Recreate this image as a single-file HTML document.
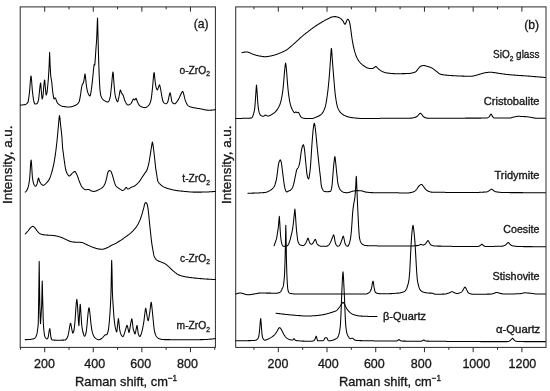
<!DOCTYPE html>
<html lang="en"><head><meta charset="utf-8"><title>Raman spectra of ZrO2 and SiO2 polymorphs</title>
<style>html,body{margin:0;padding:0;background:#fff;}svg{display:block;}text{font-family:"Liberation Sans",sans-serif;fill:#1a1a1a;}.c{fill:none;stroke:#000;stroke-width:1.05;stroke-linejoin:round;stroke-linecap:round;}.f{fill:none;stroke:#2a2a2a;stroke-width:1;}</style></head><body>
<svg width="550" height="391" viewBox="0 0 550 391">
<rect width="550" height="391" fill="#fff"/>
<rect class="f" x="20.2" y="6.9" width="195.2" height="340.5"/>
<rect class="f" x="235.7" y="6.9" width="310.3" height="340.5"/>
<path class="f" d="M20.41,347.4v2.4 M44.70,347.4v4.8 M44.70,6.9v4.8 M68.99,347.4v2.4 M68.99,6.9v2.4 M93.28,347.4v4.8 M93.28,6.9v4.8 M117.57,347.4v2.4 M117.57,6.9v2.4 M141.86,347.4v4.8 M141.86,6.9v4.8 M166.15,347.4v2.4 M166.15,6.9v2.4 M190.44,347.4v4.8 M190.44,6.9v4.8 M214.73,347.4v2.4 M253.94,347.4v2.4 M253.94,6.9v2.4 M278.30,347.4v4.8 M278.30,6.9v4.8 M302.66,347.4v2.4 M302.66,6.9v2.4 M327.02,347.4v4.8 M327.02,6.9v4.8 M351.38,347.4v2.4 M351.38,6.9v2.4 M375.74,347.4v4.8 M375.74,6.9v4.8 M400.10,347.4v2.4 M400.10,6.9v2.4 M424.46,347.4v4.8 M424.46,6.9v4.8 M448.82,347.4v2.4 M448.82,6.9v2.4 M473.18,347.4v4.8 M473.18,6.9v4.8 M497.54,347.4v2.4 M497.54,6.9v2.4 M521.90,347.4v4.8 M521.90,6.9v4.8"/>
<path class="c" d="M20.4,105.0 20.8,105.0 21.2,105.0 21.6,105.0 22.0,104.9 22.4,104.9 22.8,104.9 23.2,104.8 23.6,104.8 24.0,104.8 24.4,104.7 24.8,104.6 25.0,104.6 25.2,104.6 25.6,104.4 26.0,104.2 26.4,103.9 26.8,103.6 27.2,103.2 27.6,102.6 28.0,102.0 28.0,102.0 28.4,100.5 28.8,97.8 29.2,94.5 29.5,92.0 29.6,91.1 30.0,86.0 30.4,80.5 30.8,76.6 31.0,76.0 31.2,76.6 31.6,80.5 32.0,86.0 32.4,91.1 32.5,92.0 32.8,94.5 33.2,97.6 33.6,100.2 34.0,102.0 34.0,102.0 34.4,103.1 34.8,103.9 35.0,104.0 35.2,104.0 35.6,104.0 36.0,103.9 36.4,103.8 36.8,103.7 37.0,103.6 37.2,103.5 37.6,102.8 38.0,101.8 38.4,100.4 38.5,100.0 38.8,98.0 39.2,93.9 39.6,90.0 39.6,90.0 40.0,86.4 40.4,83.5 40.6,83.0 40.8,84.0 41.2,89.5 41.4,92.0 41.6,94.2 42.0,98.3 42.2,99.0 42.4,98.7 42.8,97.1 43.0,96.0 43.2,94.1 43.6,88.4 43.8,86.0 44.0,84.0 44.4,80.6 44.6,80.0 44.8,80.9 45.2,85.7 45.4,88.0 45.6,90.1 46.0,94.3 46.2,95.0 46.4,94.8 46.8,93.4 47.0,92.5 47.2,91.1 47.6,87.0 47.6,87.0 48.0,83.0 48.4,78.3 48.4,78.3 48.8,71.8 48.9,70.0 49.2,64.0 49.3,61.6 49.6,52.4 49.6,52.4 50.0,61.6 50.0,62.8 50.4,70.0 50.4,70.9 50.8,76.5 50.8,76.5 51.2,78.9 51.3,79.5 51.6,81.2 51.8,82.5 52.0,84.6 52.2,87.0 52.4,89.0 52.8,92.5 52.9,93.2 53.2,95.2 53.6,97.6 54.0,98.9 54.1,99.0 54.4,98.6 54.7,98.2 54.8,98.1 55.2,97.9 55.4,97.9 55.6,98.1 56.0,99.4 56.2,100.0 56.4,100.6 56.8,101.7 57.1,102.4 57.2,102.6 57.6,103.1 58.0,103.6 58.4,104.0 58.8,104.3 59.2,104.6 59.6,104.9 59.6,104.9 60.0,105.2 60.4,105.4 60.8,105.7 61.2,105.9 61.6,106.1 62.0,106.2 62.0,106.2 62.4,106.3 62.8,106.4 63.2,106.4 63.6,106.5 64.0,106.6 64.4,106.6 64.8,106.7 65.2,106.7 65.6,106.8 66.0,106.8 66.4,106.9 66.8,106.9 67.2,106.9 67.6,107.0 68.0,107.0 68.4,107.0 68.8,107.0 69.0,107.0 69.2,107.0 69.6,107.0 70.0,106.9 70.4,106.9 70.8,106.8 71.2,106.7 71.6,106.7 72.0,106.6 72.4,106.4 72.8,106.3 73.2,106.2 73.6,106.0 74.0,105.9 74.4,105.7 74.8,105.6 75.0,105.5 75.2,105.4 75.6,105.2 76.0,105.0 76.4,104.8 76.8,104.5 77.2,104.2 77.6,103.8 78.0,103.4 78.4,102.9 78.8,102.3 79.0,102.0 79.2,101.5 79.6,100.0 80.0,97.9 80.4,95.6 80.5,95.0 80.8,93.0 81.2,89.9 81.5,88.0 81.6,87.5 82.0,85.5 82.3,84.5 82.4,84.3 82.8,83.7 83.2,83.2 83.3,83.0 83.6,82.0 84.0,80.1 84.2,79.0 84.4,77.6 84.8,74.6 85.0,74.0 85.2,74.6 85.6,78.0 86.0,82.0 86.0,82.0 86.4,85.5 86.6,87.0 86.8,88.1 87.2,90.2 87.6,91.8 88.0,93.0 88.0,93.0 88.4,93.9 88.8,94.7 89.2,95.4 89.6,95.8 90.0,96.0 90.0,96.0 90.4,95.2 90.8,93.1 91.2,90.6 91.3,90.0 91.6,87.9 92.0,84.6 92.4,80.9 92.5,80.0 92.8,77.1 93.2,73.0 93.3,72.0 93.6,68.9 93.8,67.0 94.0,65.3 94.1,64.8 94.4,64.2 94.4,64.2 94.7,65.0 94.8,64.6 95.0,62.5 95.2,60.0 95.4,57.0 95.6,54.0 96.0,48.0 96.0,48.0 96.4,43.0 96.6,40.0 96.8,35.7 97.1,28.0 97.2,25.1 97.5,18.0 97.6,19.8 97.8,28.0 98.0,36.0 98.1,40.0 98.4,51.5 98.5,55.0 98.8,64.4 99.0,70.0 99.2,75.3 99.4,80.0 99.6,84.0 100.0,90.0 100.0,90.0 100.4,93.2 100.8,95.3 101.0,96.0 101.2,96.6 101.6,97.5 102.0,98.3 102.4,98.9 102.8,99.3 103.0,99.5 103.2,99.7 103.6,100.0 104.0,100.3 104.4,100.6 104.8,100.9 105.2,101.1 105.6,101.3 106.0,101.5 106.4,101.7 106.8,101.8 107.2,101.9 107.6,102.0 108.0,102.0 108.0,102.0 108.4,101.8 108.8,101.2 109.2,100.4 109.6,99.3 110.0,98.0 110.0,98.0 110.4,95.9 110.8,92.5 111.2,88.7 111.5,86.0 111.6,85.1 112.0,80.5 112.4,75.7 112.8,72.5 113.0,72.0 113.2,72.9 113.6,78.2 114.0,84.0 114.0,84.0 114.4,88.5 114.8,92.5 115.0,94.0 115.2,95.2 115.6,97.1 116.0,98.6 116.3,99.5 116.4,99.8 116.8,100.7 117.2,101.5 117.6,101.8 117.6,101.8 118.0,101.1 118.4,99.4 118.8,97.4 119.0,96.5 119.2,95.5 119.6,93.1 120.0,90.9 120.4,90.0 120.4,90.0 120.8,90.7 121.2,92.2 121.5,93.0 121.6,93.2 122.0,93.7 122.4,94.2 122.8,94.7 123.0,95.0 123.2,95.4 123.6,96.6 124.0,98.0 124.4,99.4 124.8,100.6 125.0,101.0 125.2,101.4 125.6,102.1 126.0,102.9 126.4,103.6 126.8,104.1 127.2,104.6 127.6,104.9 128.0,105.0 128.0,105.0 128.4,105.0 128.8,104.9 129.2,104.7 129.6,104.5 130.0,104.2 130.4,104.0 130.8,103.7 131.0,103.5 131.2,103.3 131.6,102.6 132.0,101.7 132.4,100.8 132.8,99.9 133.2,99.2 133.6,99.0 133.6,99.0 134.0,99.3 134.4,99.7 134.8,100.0 134.8,100.0 135.2,99.6 135.6,98.8 136.0,98.4 136.0,98.4 136.4,98.9 136.8,100.0 137.2,101.3 137.5,102.0 137.6,102.2 138.0,103.0 138.4,103.8 138.8,104.5 139.2,105.2 139.6,105.7 140.0,106.0 140.0,106.0 140.4,106.2 140.8,106.4 141.2,106.6 141.6,106.8 142.0,107.0 142.4,107.1 142.8,107.3 143.2,107.4 143.6,107.5 144.0,107.5 144.4,107.6 144.8,107.6 145.0,107.6 145.2,107.6 145.6,107.5 146.0,107.4 146.4,107.2 146.8,107.0 147.2,106.7 147.6,106.4 148.0,106.0 148.4,105.6 148.8,105.2 149.0,105.0 149.2,104.8 149.6,104.1 150.0,103.2 150.4,102.1 150.8,100.8 151.0,100.0 151.2,99.0 151.6,96.2 152.0,92.6 152.4,88.9 152.5,88.0 152.8,84.9 153.2,79.8 153.6,75.2 154.0,72.7 154.1,72.6 154.4,73.9 154.8,78.1 155.2,82.0 155.2,82.0 155.6,84.6 156.0,86.9 156.3,88.0 156.4,88.3 156.8,89.3 157.2,89.9 157.3,89.9 157.6,89.6 158.0,88.6 158.4,87.5 158.4,87.5 158.8,86.3 159.2,85.2 159.5,84.8 159.6,84.9 160.0,86.1 160.4,88.0 160.5,88.5 160.8,90.0 161.2,92.5 161.6,94.9 161.8,96.0 162.0,97.0 162.4,99.1 162.8,100.8 163.1,101.6 163.2,101.8 163.6,102.4 164.0,102.8 164.4,103.1 164.5,103.2 164.8,103.4 165.2,103.6 165.6,103.7 166.0,103.8 166.0,103.8 166.4,103.7 166.8,103.4 167.2,102.9 167.5,102.5 167.6,102.3 168.0,101.1 168.4,99.3 168.7,98.0 168.8,97.6 169.2,95.7 169.5,94.5 169.6,94.1 170.0,92.9 170.1,92.8 170.4,93.5 170.8,95.5 170.8,95.5 171.2,97.9 171.6,100.4 171.9,101.6 172.0,101.8 172.4,102.5 172.8,103.0 173.2,103.3 173.2,103.3 173.6,103.5 174.0,103.7 174.4,103.8 174.8,103.8 174.8,103.8 175.2,103.7 175.6,103.3 176.0,102.9 176.4,102.3 176.8,101.8 177.0,101.5 177.2,101.2 177.6,100.7 178.0,100.0 178.4,99.4 178.8,98.6 179.2,97.9 179.2,97.9 179.6,97.1 180.0,96.2 180.4,95.2 180.8,94.4 181.0,94.0 181.2,93.6 181.6,92.8 182.0,92.1 182.4,91.5 182.7,91.4 182.8,91.4 183.2,92.3 183.6,93.8 183.8,94.5 184.0,95.2 184.4,97.0 184.8,98.7 185.0,99.4 185.2,100.0 185.6,101.1 186.0,102.1 186.4,103.0 186.4,103.0 186.8,103.8 187.2,104.6 187.6,105.2 187.9,105.5 188.0,105.6 188.4,105.9 188.8,106.1 189.2,106.4 189.6,106.5 190.0,106.7 190.0,106.7 190.4,106.9 190.8,107.0 191.2,107.1 191.6,107.2 192.0,107.3 192.3,107.4 192.4,107.4 192.8,107.5 193.2,107.6 193.6,107.7 194.0,107.8 194.4,107.8 194.8,107.9 195.2,108.0 195.6,108.0 196.0,108.1 196.4,108.2 196.8,108.2 197.2,108.3 197.6,108.4 198.0,108.4 198.4,108.5 198.8,108.5 199.2,108.6 199.6,108.7 200.0,108.7 200.4,108.8 200.8,108.9 201.0,108.9 201.2,108.9 201.6,109.0 202.0,109.1 202.4,109.2 202.8,109.3 203.2,109.4 203.6,109.5 204.0,109.6 204.4,109.7 204.8,109.7 205.2,109.8 205.6,109.9 206.0,110.0 206.4,110.0 206.8,110.1 207.2,110.1 207.6,110.2 208.0,110.2 208.3,110.2 208.4,110.2 208.8,110.2 209.2,110.2 209.6,110.2 210.0,110.2 210.4,110.2 210.8,110.2 211.2,110.1 211.6,110.1 212.0,110.1 212.4,110.0 212.8,110.0 213.2,110.0 213.6,109.9 214.0,109.9 214.4,109.8 214.8,109.7 215.2,109.6 215.4,109.6"/>
<path class="c" d="M25.2,192.0 25.6,191.9 26.0,191.5 26.4,191.0 26.8,190.4 27.2,189.6 27.5,189.0 27.6,188.8 28.0,187.6 28.4,186.1 28.8,184.2 29.2,181.9 29.5,180.0 29.6,179.2 30.0,173.8 30.4,167.0 30.8,161.5 31.1,160.0 31.2,160.2 31.6,164.5 32.0,171.4 32.4,177.2 32.5,178.0 32.8,179.8 33.2,181.9 33.6,183.5 34.0,184.5 34.0,184.5 34.4,185.2 34.8,185.8 35.2,186.2 35.5,186.3 35.6,186.3 36.0,186.0 36.4,185.3 36.8,184.4 37.0,184.0 37.2,183.4 37.6,181.4 38.0,179.3 38.4,178.1 38.5,178.0 38.8,178.5 39.2,180.1 39.6,181.5 39.6,181.5 40.0,182.2 40.4,182.7 40.6,183.0 40.8,183.3 41.2,184.0 41.6,184.5 41.8,184.7 42.0,184.8 42.4,185.0 42.8,185.2 43.2,185.3 43.3,185.3 43.6,185.3 44.0,185.1 44.4,184.8 44.8,184.4 45.2,184.1 45.5,183.8 45.6,183.7 46.0,183.4 46.4,183.0 46.8,182.6 47.2,182.2 47.6,181.7 48.0,181.2 48.4,180.6 48.8,180.0 49.2,179.4 49.3,179.2 49.6,178.6 50.0,177.7 50.4,176.6 50.8,175.4 51.2,174.1 51.4,173.5 51.6,172.9 52.0,171.5 52.4,170.0 52.8,168.4 53.0,167.6 53.2,166.7 53.6,164.8 54.0,162.8 54.4,160.6 54.5,160.0 54.8,158.2 55.2,155.6 55.6,152.7 55.7,152.0 56.0,149.7 56.4,146.4 56.8,142.8 57.1,140.0 57.2,139.0 57.6,134.8 58.0,130.3 58.4,126.0 58.4,126.0 58.8,121.2 59.2,116.9 59.5,115.6 59.6,115.7 60.0,118.6 60.4,123.0 60.6,125.0 60.8,126.7 61.2,130.1 61.6,133.8 61.9,137.0 62.0,138.3 62.4,145.0 62.6,147.7 62.8,149.6 63.2,152.5 63.4,154.0 63.6,155.5 64.0,158.6 64.2,160.0 64.4,161.4 64.8,164.3 65.2,167.0 65.6,169.0 65.6,169.0 66.0,170.5 66.4,171.8 66.8,172.8 67.2,173.7 67.4,174.0 67.6,174.3 68.0,174.9 68.4,175.4 68.8,175.8 69.2,176.0 69.4,176.0 69.6,176.0 70.0,175.7 70.4,175.4 70.8,174.9 71.2,174.4 71.6,173.9 72.0,173.5 72.0,173.5 72.4,173.1 72.8,172.8 73.2,172.4 73.6,172.0 74.0,171.8 74.4,171.6 74.8,171.5 74.8,171.5 75.2,171.7 75.6,172.2 76.0,172.9 76.4,173.7 76.8,174.5 76.8,174.5 77.2,175.4 77.6,176.4 78.0,177.5 78.4,178.7 78.8,179.9 79.2,181.0 79.4,181.5 79.6,182.0 80.0,183.0 80.4,183.9 80.8,184.8 81.2,185.7 81.6,186.3 81.7,186.5 82.0,186.9 82.4,187.5 82.8,187.9 83.2,188.4 83.6,188.7 84.0,189.0 84.0,189.0 84.4,189.2 84.8,189.4 85.2,189.6 85.6,189.8 86.0,189.8 86.0,189.8 86.4,189.8 86.8,189.7 87.2,189.6 87.6,189.5 88.0,189.5 88.4,189.4 88.6,189.4 88.8,189.4 89.2,189.6 89.6,189.9 90.0,190.2 90.4,190.5 90.8,190.7 91.0,190.8 91.2,190.9 91.6,191.0 92.0,191.1 92.4,191.2 92.8,191.3 93.2,191.3 93.6,191.4 94.0,191.4 94.0,191.4 94.4,191.4 94.8,191.3 95.2,191.2 95.6,191.1 96.0,191.0 96.4,190.8 96.8,190.7 97.2,190.5 97.6,190.3 98.0,190.1 98.4,189.9 98.8,189.7 99.0,189.6 99.2,189.5 99.6,189.3 100.0,189.1 100.4,188.9 100.8,188.6 101.2,188.4 101.6,188.1 102.0,187.8 102.4,187.5 102.8,187.1 103.2,186.7 103.3,186.6 103.6,186.2 104.0,185.6 104.4,184.8 104.8,184.0 105.0,183.5 105.2,183.0 105.6,181.8 106.0,180.5 106.4,179.0 106.6,178.2 106.8,177.3 107.2,175.2 107.6,173.5 107.6,173.5 108.0,172.2 108.4,171.2 108.6,171.0 108.8,170.9 109.2,170.7 109.6,170.6 109.7,170.6 110.0,170.7 110.4,170.9 110.8,171.2 110.8,171.2 111.2,171.8 111.6,172.9 112.0,174.0 112.0,174.0 112.4,175.2 112.8,176.5 113.2,177.9 113.3,178.2 113.6,179.3 114.0,180.8 114.4,182.2 114.5,182.5 114.8,183.4 115.2,184.5 115.6,185.4 115.8,185.7 116.0,186.0 116.4,186.4 116.8,186.8 117.0,187.0 117.2,187.2 117.6,187.4 118.0,187.7 118.3,187.9 118.4,188.0 118.8,188.3 119.2,188.6 119.6,188.8 120.0,189.1 120.3,189.3 120.4,189.4 120.8,189.6 121.2,189.9 121.6,190.2 122.0,190.3 122.4,190.4 122.4,190.4 122.8,190.4 123.2,190.3 123.6,190.1 124.0,189.9 124.4,189.7 124.5,189.6 124.8,189.2 125.2,188.3 125.4,188.0 125.6,187.8 126.0,187.5 126.3,187.4 126.4,187.4 126.8,188.0 127.0,188.3 127.2,188.5 127.6,188.9 127.8,189.0 128.0,189.0 128.4,188.9 128.8,188.8 129.2,188.6 129.6,188.3 130.0,188.1 130.4,187.8 130.8,187.6 131.0,187.5 131.2,187.4 131.6,187.2 132.0,187.1 132.4,186.9 132.8,186.7 133.2,186.6 133.6,186.4 134.0,186.2 134.4,186.0 134.8,185.8 134.9,185.7 135.2,185.5 135.6,185.2 136.0,184.9 136.4,184.5 136.8,184.2 137.2,183.8 137.5,183.5 137.6,183.4 138.0,183.0 138.4,182.5 138.8,182.1 139.2,181.6 139.6,181.1 139.9,180.7 140.0,180.6 140.4,180.0 140.8,179.4 141.2,178.8 141.6,178.2 141.7,178.0 142.0,177.5 142.4,176.9 142.8,176.3 143.2,175.7 143.2,175.7 143.6,175.1 144.0,174.5 144.4,173.9 144.8,173.3 145.0,173.0 145.2,172.7 145.6,172.2 146.0,171.7 146.4,171.2 146.6,170.8 146.8,170.4 147.2,169.3 147.6,168.0 147.9,167.0 148.0,166.6 148.4,165.1 148.8,163.4 149.0,162.4 149.2,161.4 149.6,159.0 150.0,156.5 150.0,156.5 150.4,153.9 150.8,151.3 151.0,150.0 151.2,148.7 151.6,146.2 151.8,145.0 152.0,143.7 152.4,142.0 152.4,142.0 152.8,143.7 153.0,145.0 153.2,146.3 153.6,149.2 153.7,150.0 154.0,152.5 154.4,156.2 154.7,159.0 154.8,159.9 155.2,163.9 155.6,167.5 155.7,168.3 156.0,170.3 156.4,172.6 156.8,175.0 156.8,175.0 157.2,178.0 157.6,180.3 157.6,180.3 158.0,181.4 158.4,182.1 158.8,182.7 159.0,183.0 159.2,183.3 159.6,183.7 160.0,184.1 160.4,184.5 160.8,184.8 160.9,184.9 161.2,185.2 161.6,185.5 162.0,185.8 162.4,186.1 162.8,186.4 163.2,186.6 163.5,186.8 163.6,186.9 164.0,187.1 164.4,187.2 164.8,187.4 165.2,187.6 165.6,187.7 166.0,187.9 166.4,188.0 166.8,188.2 167.2,188.3 167.5,188.4 167.6,188.4 168.0,188.6 168.4,188.7 168.8,188.8 169.2,188.9 169.6,189.0 170.0,189.1 170.4,189.2 170.8,189.3 171.0,189.4 171.2,189.5 171.6,189.6 172.0,189.7 172.4,189.8 172.8,189.8 173.2,189.9 173.6,190.0 174.0,190.1 174.4,190.2 174.8,190.3 175.0,190.3 175.2,190.3 175.6,190.4 176.0,190.5 176.4,190.5 176.8,190.6 177.2,190.6 177.6,190.7 178.0,190.7 178.4,190.8 178.8,190.8 179.2,190.9 179.6,190.9 180.0,190.9 180.4,191.0 180.8,191.0 181.2,191.1 181.6,191.1 181.6,191.1 182.0,191.1 182.4,191.2 182.8,191.2 183.2,191.3 183.6,191.3 184.0,191.3 184.4,191.4 184.8,191.4 185.2,191.5 185.6,191.5 186.0,191.5 186.4,191.6 186.8,191.6 187.2,191.7 187.6,191.7 188.0,191.7 188.4,191.8 188.8,191.8 189.2,191.8 189.6,191.9 190.0,191.9 190.4,191.9 190.8,192.0 191.2,192.0 191.6,192.0 192.0,192.0 192.4,192.0 192.8,192.1 193.2,192.1 193.6,192.1 194.0,192.1 194.4,192.1 194.8,192.1 195.0,192.1 195.2,192.1 195.6,192.1 196.0,192.1 196.4,192.1 196.8,192.1 197.2,192.1 197.6,192.1 198.0,192.1 198.4,192.1 198.8,192.1 199.2,192.1 199.6,192.1 200.0,192.1 200.4,192.1 200.8,192.1 201.2,192.1 201.6,192.1 202.0,192.0 202.4,192.0 202.8,192.0 203.2,192.0 203.6,192.0 204.0,192.0 204.4,192.0 204.8,192.0 205.0,192.0 205.2,192.0 205.6,192.0 206.0,192.0 206.4,192.0 206.8,192.0 207.2,191.9 207.6,191.9 208.0,191.9 208.4,191.9 208.8,191.9 209.2,191.8 209.6,191.8 210.0,191.8 210.4,191.8 210.8,191.7 211.2,191.7 211.6,191.7 212.0,191.7 212.4,191.6 212.8,191.6 213.2,191.6 213.6,191.5 214.0,191.5 214.4,191.5 214.8,191.4 215.2,191.4 215.4,191.4"/>
<path class="c" d="M25.2,234.0 25.6,233.6 26.0,233.2 26.4,232.8 26.8,232.4 27.2,231.9 27.6,231.5 28.0,231.0 28.0,231.0 28.4,230.5 28.8,229.9 29.2,229.4 29.6,228.8 30.0,228.3 30.4,227.9 30.5,227.8 30.8,227.5 31.2,227.2 31.6,226.9 32.0,226.6 32.4,226.4 32.8,226.3 32.9,226.3 33.2,226.4 33.6,226.6 34.0,226.9 34.4,227.4 34.8,227.8 35.0,228.0 35.2,228.2 35.6,228.7 36.0,229.3 36.4,229.9 36.8,230.5 37.2,231.0 37.6,231.6 38.0,232.0 38.0,232.0 38.4,232.4 38.8,232.8 39.2,233.1 39.6,233.4 40.0,233.7 40.4,233.9 40.6,234.0 40.8,234.1 41.2,234.2 41.6,234.3 42.0,234.4 42.4,234.5 42.8,234.6 43.2,234.6 43.6,234.7 44.0,234.8 44.4,234.8 44.8,234.9 45.2,234.9 45.6,235.0 46.0,235.0 46.0,235.0 46.4,235.0 46.8,235.1 47.2,235.1 47.6,235.1 48.0,235.2 48.4,235.2 48.8,235.2 49.2,235.2 49.6,235.2 50.0,235.3 50.4,235.3 50.8,235.3 51.2,235.3 51.6,235.4 52.0,235.4 52.4,235.4 52.8,235.4 53.2,235.5 53.4,235.5 53.6,235.5 54.0,235.6 54.4,235.6 54.8,235.7 55.2,235.8 55.6,235.8 56.0,235.9 56.4,236.0 56.8,236.1 57.2,236.2 57.6,236.3 58.0,236.4 58.4,236.5 58.8,236.6 59.2,236.7 59.6,236.9 60.0,237.0 60.4,237.1 60.8,237.2 61.0,237.3 61.2,237.4 61.6,237.5 62.0,237.7 62.4,237.8 62.8,238.0 63.2,238.2 63.6,238.4 64.0,238.6 64.4,238.8 64.8,239.0 65.2,239.1 65.6,239.3 66.0,239.5 66.0,239.5 66.4,239.7 66.8,239.9 67.2,240.1 67.6,240.3 68.0,240.5 68.4,240.7 68.8,240.8 69.2,241.0 69.6,241.2 70.0,241.3 70.4,241.5 70.8,241.6 71.2,241.7 71.3,241.7 71.6,241.7 72.0,241.8 72.4,241.9 72.8,241.9 73.2,242.0 73.6,242.0 74.0,242.1 74.4,242.1 74.8,242.1 75.2,242.2 75.6,242.2 76.0,242.2 76.0,242.2 76.4,242.2 76.8,242.2 77.2,242.3 77.6,242.3 78.0,242.3 78.4,242.3 78.8,242.3 79.2,242.3 79.6,242.3 80.0,242.3 80.4,242.3 80.8,242.4 81.2,242.4 81.5,242.4 81.6,242.4 82.0,242.5 82.4,242.6 82.8,242.7 83.2,242.9 83.6,243.1 84.0,243.3 84.4,243.5 84.8,243.7 85.2,243.9 85.6,244.1 86.0,244.3 86.0,244.3 86.4,244.5 86.8,244.7 87.2,244.8 87.6,245.0 88.0,245.2 88.4,245.4 88.8,245.6 89.2,245.7 89.6,245.9 90.0,246.1 90.4,246.3 90.8,246.4 91.2,246.6 91.6,246.8 91.7,246.8 92.0,246.9 92.4,247.1 92.8,247.2 93.2,247.4 93.6,247.5 94.0,247.7 94.4,247.8 94.8,248.0 95.2,248.1 95.6,248.2 96.0,248.4 96.4,248.5 96.8,248.6 97.0,248.6 97.2,248.6 97.6,248.7 98.0,248.8 98.4,248.9 98.8,249.0 99.2,249.0 99.6,249.1 100.0,249.1 100.4,249.2 100.8,249.2 101.2,249.3 101.6,249.3 102.0,249.3 102.0,249.3 102.4,249.3 102.8,249.2 103.2,249.2 103.6,249.1 104.0,249.0 104.4,248.8 104.8,248.7 105.2,248.5 105.6,248.4 106.0,248.2 106.4,248.0 106.8,247.9 107.0,247.8 107.2,247.7 107.6,247.5 108.0,247.4 108.4,247.1 108.8,246.9 109.2,246.7 109.6,246.5 110.0,246.2 110.4,246.0 110.8,245.8 111.2,245.5 111.6,245.3 112.0,245.1 112.2,245.0 112.4,244.9 112.8,244.7 113.2,244.5 113.6,244.4 114.0,244.2 114.4,244.1 114.8,243.9 115.2,243.7 115.6,243.5 116.0,243.3 116.0,243.3 116.4,243.1 116.8,242.8 117.2,242.5 117.6,242.3 118.0,242.0 118.0,242.0 118.4,241.8 118.8,241.5 119.2,241.3 119.6,241.0 120.0,240.8 120.4,240.6 120.8,240.3 121.2,240.1 121.6,239.8 121.9,239.6 122.0,239.5 122.4,239.3 122.8,239.0 123.2,238.7 123.6,238.4 124.0,238.0 124.4,237.7 124.8,237.4 125.0,237.3 125.2,237.2 125.6,236.9 126.0,236.6 126.4,236.3 126.8,236.0 127.2,235.8 127.6,235.5 128.0,235.2 128.4,234.9 128.8,234.6 128.8,234.6 129.2,234.3 129.6,234.0 130.0,233.6 130.4,233.3 130.8,232.9 131.2,232.6 131.6,232.2 132.0,231.8 132.0,231.8 132.4,231.4 132.8,231.0 133.2,230.6 133.6,230.1 134.0,229.7 134.4,229.2 134.6,229.0 134.8,228.8 135.2,228.3 135.6,227.8 136.0,227.3 136.4,226.8 136.4,226.8 136.8,226.2 137.2,225.6 137.6,224.9 138.0,224.2 138.0,224.2 138.4,223.5 138.8,222.6 139.2,221.8 139.2,221.8 139.6,220.9 140.0,220.0 140.3,219.2 140.4,218.9 140.8,217.8 141.2,216.6 141.3,216.3 141.6,215.4 142.0,214.1 142.2,213.4 142.4,212.7 142.8,211.2 143.0,210.5 143.2,209.8 143.6,208.4 143.8,207.7 144.0,206.8 144.4,204.9 144.6,204.2 144.8,203.7 145.2,202.9 145.6,202.5 145.6,202.5 146.0,202.6 146.4,202.8 146.6,203.0 146.8,203.3 147.2,204.5 147.3,204.8 147.6,206.0 147.9,207.7 148.0,208.4 148.4,211.7 148.7,214.5 148.8,215.4 149.2,219.5 149.5,222.6 149.6,223.6 150.0,227.4 150.4,231.2 150.6,233.0 150.8,234.8 151.2,238.5 151.6,241.9 151.8,243.4 152.0,244.8 152.4,247.2 152.8,249.4 153.0,250.5 153.2,251.6 153.6,253.9 154.0,255.7 154.1,256.0 154.4,256.8 154.8,257.6 155.2,258.3 155.6,258.8 155.6,258.8 156.0,259.3 156.4,259.7 156.8,260.0 157.2,260.3 157.6,260.6 157.6,260.6 158.0,260.8 158.4,261.0 158.8,261.2 159.2,261.3 159.6,261.5 160.0,261.6 160.4,261.8 160.8,261.9 161.0,262.0 161.2,262.1 161.6,262.2 162.0,262.4 162.4,262.5 162.8,262.7 163.2,262.9 163.6,263.0 164.0,263.2 164.4,263.4 164.8,263.6 165.0,263.7 165.2,263.8 165.6,264.1 166.0,264.4 166.4,264.7 166.8,265.0 167.2,265.3 167.6,265.7 168.0,266.0 168.0,266.0 168.4,266.4 168.8,266.7 169.2,267.1 169.6,267.5 170.0,267.9 170.4,268.3 170.8,268.7 171.2,269.1 171.4,269.3 171.6,269.5 172.0,269.8 172.4,270.2 172.8,270.6 173.2,270.9 173.6,271.3 174.0,271.6 174.4,271.9 174.5,272.0 174.8,272.2 175.2,272.6 175.6,272.9 176.0,273.2 176.4,273.5 176.8,273.8 177.2,274.1 177.6,274.3 177.8,274.4 178.0,274.5 178.4,274.7 178.8,274.9 179.2,275.0 179.6,275.2 180.0,275.4 180.4,275.5 180.8,275.6 181.2,275.8 181.6,275.9 182.0,276.0 182.0,276.0 182.4,276.1 182.8,276.2 183.2,276.3 183.6,276.4 184.0,276.5 184.4,276.6 184.8,276.7 185.2,276.7 185.6,276.8 186.0,276.9 186.4,277.0 186.7,277.0 186.8,277.0 187.2,277.1 187.6,277.1 188.0,277.2 188.4,277.3 188.8,277.3 189.2,277.4 189.6,277.4 190.0,277.5 190.4,277.5 190.8,277.6 191.2,277.6 191.6,277.7 192.0,277.7 192.4,277.8 192.8,277.8 193.2,277.9 193.6,277.9 194.0,278.0 194.4,278.0 194.8,278.1 195.2,278.1 195.6,278.1 196.0,278.2 196.4,278.2 196.8,278.3 197.2,278.3 197.6,278.3 198.0,278.4 198.4,278.4 198.8,278.4 199.2,278.5 199.5,278.5 199.6,278.5 200.0,278.5 200.4,278.6 200.8,278.6 201.2,278.6 201.6,278.7 202.0,278.7 202.4,278.7 202.8,278.8 203.2,278.8 203.6,278.8 204.0,278.9 204.4,278.9 204.8,278.9 205.2,278.9 205.6,279.0 206.0,279.0 206.4,279.0 206.8,279.1 207.2,279.1 207.6,279.1 208.0,279.1 208.4,279.2 208.8,279.2 209.2,279.2 209.6,279.2 210.0,279.3 210.4,279.3 210.8,279.3 211.2,279.3 211.6,279.3 212.0,279.4 212.4,279.4 212.8,279.4 213.2,279.4 213.6,279.4 214.0,279.4 214.4,279.5 214.8,279.5 215.2,279.5 215.4,279.5"/>
<path class="c" d="M25.2,339.6 25.6,339.6 26.0,339.6 26.4,339.6 26.8,339.6 27.2,339.6 27.6,339.5 28.0,339.5 28.4,339.5 28.8,339.5 29.2,339.5 29.6,339.4 30.0,339.4 30.0,339.4 30.4,339.4 30.8,339.3 31.2,339.3 31.6,339.2 32.0,339.2 32.4,339.1 32.8,339.0 33.2,338.9 33.6,338.8 34.0,338.6 34.4,338.5 34.4,338.5 34.8,338.2 35.2,337.8 35.6,337.2 36.0,336.5 36.0,336.5 36.4,335.6 36.8,334.2 37.0,333.4 37.2,332.4 37.6,329.7 37.7,329.0 38.0,326.8 38.2,324.4 38.4,316.7 38.6,305.0 38.8,292.1 38.9,285.0 39.2,261.4 39.2,261.4 39.5,285.0 39.6,292.4 39.8,305.0 40.0,312.5 40.2,318.0 40.4,322.8 40.5,323.8 40.8,319.8 40.9,318.0 41.2,312.7 41.3,311.0 41.6,306.9 41.7,305.0 42.0,292.0 42.0,292.0 42.2,281.0 42.4,285.5 42.6,296.0 42.8,303.4 42.9,307.0 43.2,318.7 43.4,324.4 43.6,327.4 43.9,330.5 44.0,331.5 44.4,334.7 44.4,334.7 44.8,336.2 45.1,337.0 45.2,337.2 45.6,337.9 45.9,338.3 46.0,338.4 46.4,338.7 46.8,338.9 47.2,339.0 47.2,339.0 47.6,338.6 48.0,337.5 48.3,336.5 48.4,336.1 48.8,333.3 49.0,332.0 49.2,330.9 49.6,328.9 49.8,328.7 50.0,329.7 50.4,333.0 50.4,333.0 50.8,336.3 51.0,337.5 51.2,338.3 51.6,339.3 51.6,339.3 52.0,339.8 52.3,339.9 52.4,339.9 52.8,340.0 53.2,340.0 53.6,340.0 54.0,340.1 54.4,340.1 54.8,340.1 55.2,340.1 55.6,340.2 56.0,340.2 56.4,340.2 56.8,340.2 57.2,340.2 57.6,340.2 58.0,340.2 58.0,340.2 58.4,340.2 58.8,340.2 59.2,340.2 59.6,340.2 60.0,340.2 60.4,340.2 60.8,340.2 61.2,340.2 61.6,340.2 62.0,340.1 62.4,340.1 62.8,340.1 63.2,340.1 63.6,340.1 64.0,340.1 64.4,340.0 64.8,340.0 65.1,340.0 65.2,340.0 65.6,339.8 66.0,339.4 66.4,338.9 66.5,338.8 66.8,338.4 67.2,337.7 67.6,336.8 67.7,336.6 68.0,335.7 68.4,334.0 68.8,332.0 68.8,332.0 69.2,329.5 69.6,327.0 69.7,326.5 70.0,325.0 70.4,323.5 70.6,323.2 70.8,323.6 71.2,325.8 71.5,327.5 71.6,328.0 72.0,330.2 72.4,332.2 72.8,333.1 72.8,333.1 73.2,332.7 73.6,331.6 73.8,331.0 74.0,330.1 74.4,327.1 74.7,324.4 74.8,323.4 75.2,318.2 75.5,314.0 75.6,312.6 76.0,306.5 76.2,304.0 76.4,301.9 76.8,299.3 76.8,299.3 77.2,301.8 77.4,304.0 77.6,306.9 78.0,314.0 78.0,314.0 78.4,320.7 78.8,325.4 78.9,325.7 79.2,321.6 79.5,315.0 79.6,313.2 80.0,305.7 80.2,304.2 80.4,305.4 80.8,311.5 80.9,313.0 81.2,317.5 81.6,323.4 81.7,324.4 82.0,326.9 82.4,329.6 82.8,331.5 82.8,331.5 83.2,333.0 83.6,334.4 84.0,335.5 84.4,336.1 84.6,336.2 84.8,336.1 85.2,335.5 85.6,334.4 86.0,333.0 86.0,333.0 86.4,330.5 86.8,326.9 87.0,325.0 87.2,322.9 87.6,318.1 88.0,314.0 88.0,314.0 88.4,310.7 88.8,308.2 89.0,307.8 89.2,308.2 89.6,310.7 90.0,314.0 90.0,314.0 90.4,317.8 90.8,322.2 91.0,324.0 91.2,325.6 91.6,328.5 92.0,330.8 92.0,330.8 92.4,332.4 92.8,333.7 93.2,334.8 93.2,334.8 93.6,335.7 94.0,336.5 94.4,337.1 94.5,337.2 94.8,337.6 95.2,338.0 95.6,338.3 96.0,338.6 96.0,338.6 96.4,338.9 96.8,339.1 97.2,339.4 97.6,339.6 98.0,339.7 98.4,339.8 98.6,339.8 98.8,339.8 99.2,339.7 99.6,339.6 100.0,339.5 100.4,339.3 100.8,339.0 101.2,338.8 101.6,338.5 102.0,338.2 102.4,337.9 102.4,337.9 102.8,337.5 103.2,337.0 103.6,336.5 104.0,336.0 104.0,336.0 104.4,335.6 104.8,335.2 105.2,334.9 105.2,334.9 105.6,334.8 106.0,334.7 106.4,334.7 106.8,334.5 106.9,334.5 107.2,334.1 107.6,333.1 108.0,331.6 108.2,330.8 108.4,329.7 108.8,326.7 109.2,322.7 109.4,320.6 109.6,318.3 110.0,312.7 110.3,307.8 110.4,306.0 110.8,297.5 111.0,292.0 111.2,282.7 111.6,261.8 111.7,260.4 112.0,270.9 112.4,292.0 112.4,292.0 112.8,300.3 113.2,306.3 113.3,307.8 113.6,312.2 114.0,317.5 114.3,320.6 114.4,321.4 114.8,324.5 115.2,326.9 115.5,328.3 115.6,328.7 116.0,330.4 116.4,331.7 116.7,332.0 116.8,331.8 117.2,328.9 117.6,325.0 117.6,325.0 118.0,321.0 118.4,318.5 118.4,318.5 118.8,321.0 119.1,324.0 119.2,324.9 119.6,328.9 119.7,329.6 120.0,331.1 120.4,332.7 120.8,333.9 121.0,334.3 121.2,334.7 121.6,335.4 122.0,336.0 122.4,336.4 122.8,336.6 122.9,336.6 123.2,336.4 123.6,335.7 124.0,334.6 124.4,333.3 124.8,332.1 124.8,332.1 125.2,330.8 125.6,329.3 126.0,328.0 126.0,328.0 126.4,326.6 126.8,325.5 127.0,325.3 127.2,325.5 127.6,326.9 128.0,328.5 128.0,328.5 128.4,330.4 128.8,332.1 129.0,332.4 129.2,332.1 129.6,330.3 130.0,328.0 130.0,328.0 130.4,325.6 130.8,323.1 131.0,322.0 131.2,321.0 131.6,319.2 131.8,318.9 132.0,319.4 132.4,322.3 132.5,323.0 132.8,325.8 133.1,328.3 133.2,328.8 133.6,330.3 134.0,331.5 134.0,331.5 134.4,332.8 134.8,333.8 135.0,334.0 135.2,333.7 135.6,332.0 136.0,330.0 136.0,330.0 136.4,327.8 136.8,325.8 137.0,325.5 137.2,326.0 137.6,328.8 137.7,329.5 138.0,332.1 138.2,333.4 138.4,334.1 138.8,335.1 139.0,335.5 139.2,335.8 139.6,336.3 139.9,336.5 140.0,336.5 140.4,335.9 140.8,335.0 141.0,334.5 141.2,334.0 141.6,332.7 142.0,331.2 142.1,330.8 142.4,329.5 142.8,327.6 143.1,326.0 143.2,325.5 143.6,323.2 144.0,320.6 144.0,320.6 144.4,317.3 144.8,313.7 144.9,313.0 145.2,310.7 145.6,308.3 145.7,308.2 146.0,309.1 146.4,311.7 146.6,313.0 146.8,314.3 147.2,316.9 147.4,318.0 147.6,318.9 148.0,320.5 148.2,320.8 148.4,320.5 148.8,318.5 149.2,316.0 149.2,316.0 149.6,313.3 150.0,310.2 150.3,308.0 150.4,307.3 150.8,303.9 151.2,302.2 151.2,302.2 151.6,304.2 152.0,308.1 152.1,309.0 152.4,311.8 152.8,316.0 153.0,318.0 153.2,320.0 153.6,324.0 153.6,324.0 154.0,328.0 154.2,329.6 154.4,330.7 154.8,332.5 155.1,333.5 155.2,333.8 155.6,334.9 156.0,335.8 156.1,336.0 156.4,336.5 156.8,337.0 157.2,337.4 157.3,337.5 157.6,337.8 158.0,338.1 158.4,338.4 158.7,338.5 158.8,338.5 159.2,338.7 159.6,338.9 160.0,339.0 160.4,339.1 160.8,339.2 161.2,339.3 161.6,339.4 162.0,339.5 162.4,339.5 162.5,339.5 162.8,339.5 163.2,339.5 163.6,339.5 164.0,339.6 164.4,339.6 164.8,339.6 165.2,339.6 165.6,339.6 166.0,339.6 166.3,339.6 166.4,339.6 166.8,339.6 167.2,339.6 167.6,339.6 168.0,339.6 168.4,339.6 168.8,339.6 169.2,339.6 169.6,339.6 170.0,339.7 170.4,339.7 170.8,339.7 171.2,339.7 171.6,339.7 172.0,339.7 172.4,339.7 172.8,339.7 173.2,339.7 173.6,339.7 174.0,339.7 174.4,339.7 174.8,339.7 175.2,339.7 175.6,339.7 176.0,339.7 176.4,339.7 176.8,339.7 177.2,339.7 177.6,339.7 178.0,339.7 178.4,339.7 178.8,339.7 179.2,339.8 179.6,339.8 180.0,339.8 180.4,339.8 180.8,339.8 181.2,339.8 181.6,339.8 182.0,339.8 182.4,339.8 182.8,339.8 183.2,339.8 183.6,339.8 184.0,339.8 184.4,339.8 184.8,339.8 185.2,339.8 185.6,339.8 186.0,339.8 186.4,339.8 186.8,339.8 187.2,339.8 187.6,339.8 188.0,339.8 188.4,339.8 188.8,339.8 189.2,339.8 189.6,339.8 190.0,339.8 190.0,339.8 190.4,339.8 190.8,339.8 191.2,339.8 191.6,339.8 192.0,339.8 192.4,339.8 192.8,339.8 193.2,339.8 193.6,339.8 194.0,339.8 194.4,339.8 194.8,339.8 195.2,339.8 195.6,339.8 196.0,339.7 196.4,339.7 196.8,339.7 197.2,339.7 197.6,339.7 198.0,339.7 198.4,339.7 198.8,339.7 199.2,339.7 199.6,339.7 200.0,339.7 200.4,339.6 200.8,339.6 201.2,339.6 201.6,339.6 202.0,339.6 202.4,339.6 202.8,339.6 203.2,339.6 203.6,339.5 204.0,339.5 204.4,339.5 204.8,339.5 205.0,339.5 205.2,339.5 205.6,339.5 206.0,339.5 206.4,339.4 206.8,339.4 207.2,339.4 207.6,339.4 208.0,339.3 208.4,339.3 208.8,339.3 209.2,339.2 209.6,339.2 210.0,339.2 210.4,339.1 210.8,339.1 211.2,339.1 211.6,339.0 212.0,339.0 212.4,338.9 212.8,338.9 213.2,338.8 213.6,338.8 214.0,338.8 214.4,338.7 214.8,338.7 215.2,338.6 215.4,338.6"/>
<path class="c" d="M242.0,52.6 242.4,52.5 242.8,52.4 243.2,52.3 243.6,52.2 244.0,52.2 244.4,52.1 244.5,52.1 244.8,52.1 245.2,52.0 245.6,52.0 246.0,52.0 246.4,52.0 246.5,52.0 246.8,52.0 247.2,52.0 247.6,52.1 248.0,52.2 248.4,52.3 248.8,52.5 249.2,52.6 249.5,52.7 249.6,52.7 250.0,52.9 250.4,53.0 250.8,53.2 251.2,53.4 251.6,53.6 252.0,53.8 252.4,53.9 252.8,54.1 253.2,54.3 253.6,54.4 253.8,54.5 254.0,54.6 254.4,54.7 254.8,54.8 255.2,54.9 255.6,55.1 256.0,55.2 256.4,55.3 256.8,55.4 257.2,55.5 257.6,55.6 258.0,55.7 258.4,55.8 258.8,55.9 259.2,55.9 259.5,56.0 259.6,56.0 260.0,56.1 260.4,56.1 260.8,56.2 261.2,56.3 261.6,56.3 262.0,56.4 262.4,56.5 262.8,56.5 263.2,56.6 263.6,56.6 264.0,56.6 264.4,56.7 264.8,56.7 265.2,56.7 265.6,56.7 265.6,56.7 266.0,56.7 266.4,56.7 266.8,56.6 267.2,56.6 267.6,56.5 268.0,56.5 268.4,56.4 268.8,56.3 269.2,56.2 269.6,56.2 270.0,56.1 270.0,56.1 270.4,56.0 270.8,55.9 271.2,55.9 271.6,55.8 272.0,55.7 272.4,55.6 272.8,55.5 273.2,55.4 273.6,55.3 274.0,55.1 274.4,55.0 274.8,54.9 275.2,54.8 275.5,54.7 275.6,54.7 276.0,54.5 276.4,54.4 276.8,54.3 277.2,54.1 277.6,54.0 278.0,53.9 278.4,53.7 278.8,53.6 279.2,53.4 279.6,53.2 280.0,53.1 280.4,52.9 280.8,52.7 280.9,52.7 281.2,52.6 281.6,52.4 282.0,52.2 282.4,52.1 282.8,51.9 283.2,51.7 283.6,51.5 284.0,51.3 284.4,51.1 284.8,50.9 285.2,50.7 285.6,50.5 286.0,50.2 286.4,50.0 286.4,50.0 286.8,49.7 287.2,49.5 287.6,49.2 288.0,48.9 288.4,48.5 288.8,48.2 289.2,47.9 289.6,47.5 290.0,47.2 290.4,46.8 290.8,46.5 291.2,46.1 291.6,45.8 291.8,45.6 292.0,45.4 292.4,45.1 292.8,44.7 293.2,44.4 293.6,44.0 294.0,43.7 294.4,43.3 294.8,43.0 295.2,42.6 295.6,42.2 296.0,41.9 296.4,41.5 296.8,41.2 297.2,40.8 297.3,40.7 297.6,40.4 298.0,40.1 298.4,39.7 298.8,39.3 299.2,39.0 299.6,38.6 300.0,38.2 300.4,37.8 300.8,37.5 301.2,37.1 301.6,36.8 302.0,36.4 302.4,36.1 302.7,35.8 302.8,35.7 303.2,35.4 303.6,35.1 304.0,34.7 304.4,34.4 304.8,34.1 305.2,33.8 305.6,33.5 306.0,33.2 306.4,32.9 306.8,32.6 307.2,32.3 307.6,32.0 308.0,31.7 308.2,31.5 308.4,31.3 308.8,31.0 309.2,30.7 309.6,30.4 310.0,30.1 310.4,29.8 310.8,29.5 311.2,29.2 311.6,28.9 312.0,28.6 312.4,28.3 312.8,28.0 313.2,27.7 313.6,27.4 313.6,27.4 314.0,27.1 314.4,26.8 314.8,26.6 315.2,26.3 315.6,26.0 316.0,25.8 316.4,25.5 316.8,25.3 317.2,25.0 317.6,24.7 318.0,24.5 318.4,24.2 318.8,24.0 319.1,23.8 319.2,23.7 319.6,23.5 320.0,23.2 320.4,23.0 320.8,22.8 321.2,22.5 321.6,22.3 322.0,22.0 322.4,21.8 322.8,21.6 323.2,21.3 323.6,21.1 324.0,20.9 324.4,20.6 324.8,20.4 325.2,20.2 325.6,20.0 325.6,20.0 326.0,19.8 326.4,19.6 326.8,19.4 327.2,19.2 327.6,19.0 328.0,18.8 328.4,18.6 328.5,18.6 328.8,18.4 329.2,18.2 329.6,18.0 330.0,17.7 330.4,17.5 330.8,17.3 331.2,17.2 331.5,17.1 331.6,17.1 332.0,17.0 332.4,16.9 332.8,16.8 333.2,16.8 333.6,16.7 334.0,16.7 334.4,16.6 334.8,16.6 335.1,16.6 335.2,16.6 335.6,16.6 336.0,16.7 336.4,16.8 336.8,16.9 337.2,17.0 337.6,17.1 338.0,17.2 338.0,17.2 338.4,17.3 338.8,17.5 339.2,17.7 339.6,17.9 340.0,18.1 340.4,18.3 340.5,18.4 340.8,18.6 341.2,19.0 341.6,19.3 342.0,19.8 342.4,20.2 342.8,20.7 343.0,21.0 343.2,21.3 343.6,22.1 344.0,23.0 344.4,23.7 344.8,24.2 345.0,24.3 345.2,24.2 345.6,23.5 346.0,22.5 346.4,21.5 346.4,21.5 346.8,20.6 347.2,19.6 347.6,19.2 347.6,19.2 348.0,19.4 348.4,19.7 348.5,19.8 348.8,20.2 349.2,21.1 349.4,21.7 349.6,22.4 350.0,24.4 350.4,26.8 350.6,28.0 350.8,29.3 351.2,32.4 351.6,35.6 352.0,38.4 352.0,38.4 352.4,40.8 352.8,43.1 353.2,45.2 353.6,47.1 353.8,48.0 354.0,48.8 354.4,50.4 354.8,51.9 355.2,53.2 355.6,54.4 355.8,55.0 356.0,55.5 356.4,56.5 356.8,57.5 357.2,58.3 357.6,59.1 358.0,59.8 358.0,59.8 358.4,60.4 358.8,61.0 359.2,61.5 359.6,62.0 360.0,62.5 360.4,62.9 360.8,63.3 360.9,63.4 361.2,63.7 361.6,64.1 362.0,64.4 362.4,64.8 362.8,65.1 363.2,65.4 363.6,65.7 364.0,66.0 364.4,66.2 364.5,66.3 364.8,66.5 365.2,66.7 365.6,67.0 366.0,67.2 366.4,67.5 366.8,67.7 367.2,67.9 367.6,68.1 368.0,68.2 368.4,68.3 368.6,68.3 368.8,68.3 369.2,68.4 369.6,68.4 370.0,68.4 370.4,68.4 370.8,68.5 371.2,68.5 371.6,68.5 372.0,68.5 372.4,68.5 372.4,68.5 372.8,68.4 373.2,68.2 373.6,68.0 374.0,67.7 374.3,67.5 374.4,67.4 374.8,67.1 375.2,66.8 375.6,66.5 375.8,66.5 376.0,66.5 376.4,66.8 376.8,67.2 377.2,67.7 377.5,68.0 377.6,68.1 378.0,68.5 378.4,68.8 378.8,69.2 379.2,69.5 379.3,69.6 379.6,69.8 380.0,70.1 380.4,70.4 380.8,70.7 381.2,70.9 381.6,71.1 382.0,71.4 382.4,71.6 382.5,71.6 382.8,71.7 383.2,71.9 383.6,72.1 384.0,72.2 384.4,72.4 384.8,72.5 385.2,72.6 385.6,72.7 386.0,72.8 386.4,72.9 386.5,72.9 386.8,72.9 387.2,73.0 387.6,73.0 388.0,73.1 388.4,73.1 388.8,73.2 389.2,73.2 389.6,73.3 390.0,73.3 390.4,73.4 390.8,73.4 391.2,73.4 391.6,73.5 392.0,73.5 392.4,73.5 392.8,73.6 393.2,73.6 393.6,73.6 394.0,73.6 394.4,73.7 394.8,73.7 395.2,73.7 395.6,73.7 396.0,73.7 396.4,73.7 396.7,73.7 396.8,73.7 397.2,73.7 397.6,73.7 398.0,73.7 398.4,73.7 398.8,73.7 399.2,73.7 399.6,73.7 400.0,73.7 400.4,73.7 400.8,73.7 401.2,73.7 401.6,73.7 402.0,73.7 402.4,73.6 402.8,73.6 403.2,73.6 403.6,73.6 404.0,73.6 404.4,73.6 404.8,73.6 405.2,73.6 405.6,73.6 406.0,73.5 406.4,73.5 406.8,73.5 407.2,73.5 407.6,73.5 408.0,73.5 408.4,73.5 408.8,73.4 409.2,73.4 409.5,73.4 409.6,73.4 410.0,73.4 410.4,73.3 410.8,73.3 411.2,73.2 411.6,73.1 412.0,73.0 412.4,72.9 412.8,72.8 413.0,72.8 413.2,72.7 413.6,72.6 414.0,72.5 414.4,72.4 414.8,72.2 415.2,72.0 415.6,71.8 415.9,71.6 416.0,71.5 416.4,71.2 416.8,70.7 417.2,70.1 417.6,69.5 418.0,69.0 418.0,69.0 418.4,68.5 418.8,68.0 419.2,67.5 419.6,67.1 419.7,67.0 420.0,66.8 420.4,66.5 420.8,66.2 421.2,66.0 421.6,65.9 421.8,65.8 422.0,65.8 422.4,65.7 422.8,65.6 423.2,65.5 423.6,65.5 423.7,65.5 424.0,65.5 424.4,65.6 424.8,65.6 425.2,65.7 425.6,65.9 426.0,66.0 426.4,66.1 426.8,66.2 427.0,66.3 427.2,66.4 427.6,66.5 428.0,66.6 428.4,66.7 428.8,66.8 429.2,66.9 429.6,67.1 430.0,67.2 430.4,67.3 430.8,67.5 431.2,67.7 431.5,67.8 431.6,67.8 432.0,68.1 432.4,68.3 432.8,68.6 433.2,68.8 433.6,69.1 434.0,69.5 434.4,69.8 434.8,70.1 435.2,70.4 435.6,70.7 436.0,71.0 436.0,71.0 436.4,71.3 436.8,71.6 437.2,72.0 437.6,72.3 438.0,72.6 438.4,73.0 438.8,73.3 439.2,73.6 439.6,73.8 440.0,74.0 440.4,74.2 440.5,74.2 440.8,74.3 441.2,74.4 441.6,74.5 442.0,74.6 442.4,74.6 442.8,74.7 443.2,74.8 443.6,74.8 444.0,74.9 444.4,74.9 444.8,75.0 445.0,75.0 445.2,75.0 445.6,75.1 446.0,75.1 446.4,75.2 446.8,75.2 447.2,75.2 447.6,75.3 448.0,75.3 448.4,75.3 448.8,75.4 449.2,75.4 449.6,75.4 450.0,75.5 450.4,75.5 450.7,75.5 450.8,75.5 451.2,75.5 451.6,75.6 452.0,75.6 452.4,75.6 452.8,75.6 453.2,75.7 453.6,75.7 454.0,75.7 454.4,75.7 454.8,75.8 455.2,75.8 455.6,75.8 456.0,75.8 456.4,75.8 456.8,75.9 457.2,75.9 457.6,75.9 458.0,75.9 458.4,75.9 458.8,76.0 459.2,76.0 459.6,76.0 460.0,76.0 460.0,76.0 460.4,76.0 460.8,76.0 461.2,76.0 461.6,76.1 462.0,76.1 462.4,76.1 462.8,76.1 463.2,76.1 463.6,76.1 464.0,76.1 464.4,76.2 464.8,76.2 465.2,76.2 465.6,76.2 466.0,76.2 466.4,76.2 466.8,76.2 467.2,76.2 467.6,76.3 468.0,76.3 468.4,76.3 468.8,76.3 469.2,76.3 469.6,76.3 470.0,76.3 470.4,76.3 470.8,76.3 471.2,76.3 471.2,76.3 471.6,76.3 472.0,76.3 472.4,76.2 472.8,76.1 473.2,76.0 473.6,75.9 474.0,75.8 474.4,75.7 474.8,75.6 475.2,75.5 475.6,75.4 476.0,75.3 476.0,75.3 476.4,75.2 476.8,75.1 477.2,75.0 477.6,74.9 478.0,74.7 478.4,74.6 478.8,74.5 479.2,74.4 479.6,74.2 480.0,74.1 480.4,74.0 480.8,73.9 481.2,73.8 481.4,73.7 481.6,73.6 482.0,73.5 482.4,73.4 482.8,73.3 483.2,73.2 483.6,73.1 484.0,73.0 484.4,72.9 484.8,72.8 485.2,72.7 485.6,72.7 486.0,72.6 486.0,72.6 486.4,72.5 486.8,72.5 487.2,72.4 487.6,72.4 488.0,72.3 488.4,72.3 488.8,72.3 489.2,72.2 489.6,72.2 490.0,72.2 490.4,72.2 490.4,72.2 490.8,72.2 491.2,72.2 491.6,72.3 492.0,72.3 492.4,72.3 492.8,72.4 493.2,72.4 493.6,72.5 494.0,72.6 494.4,72.6 494.8,72.7 495.0,72.7 495.2,72.7 495.6,72.8 496.0,72.8 496.4,72.9 496.8,73.0 497.2,73.1 497.6,73.1 498.0,73.2 498.4,73.3 498.8,73.3 499.2,73.4 499.3,73.4 499.6,73.4 500.0,73.5 500.4,73.6 500.8,73.6 501.2,73.7 501.6,73.7 502.0,73.8 502.4,73.8 502.8,73.9 503.2,73.9 503.6,74.0 504.0,74.1 504.4,74.1 504.8,74.2 505.2,74.2 505.6,74.3 506.0,74.3 506.4,74.4 506.8,74.4 507.2,74.4 507.6,74.5 508.0,74.5 508.4,74.6 508.8,74.6 509.2,74.7 509.6,74.7 509.6,74.7 510.0,74.7 510.4,74.8 510.8,74.8 511.2,74.8 511.6,74.9 512.0,74.9 512.4,74.9 512.8,75.0 513.2,75.0 513.6,75.0 514.0,75.1 514.4,75.1 514.8,75.1 515.2,75.2 515.6,75.2 516.0,75.2 516.4,75.2 516.8,75.3 517.2,75.3 517.6,75.3 518.0,75.4 518.4,75.4 518.8,75.4 519.2,75.4 519.6,75.5 520.0,75.5 520.4,75.5 520.8,75.5 521.2,75.6 521.6,75.6 522.0,75.6 522.4,75.6 522.8,75.7 523.2,75.7 523.6,75.7 524.0,75.7 524.4,75.8 524.8,75.8 525.2,75.8 525.6,75.9 526.0,75.9 526.4,75.9 526.8,75.9 527.2,76.0 527.5,76.0 527.6,76.0 528.0,76.0 528.4,76.1 528.8,76.1 529.2,76.1 529.6,76.2 530.0,76.2 530.4,76.2 530.8,76.3 531.2,76.3 531.6,76.3 532.0,76.4 532.4,76.4 532.8,76.4 533.2,76.5 533.6,76.5 534.0,76.5 534.4,76.6 534.8,76.6 535.2,76.6 535.6,76.7 536.0,76.7 536.4,76.7 536.8,76.8 537.2,76.8 537.6,76.8 538.0,76.9 538.4,76.9 538.8,76.9 539.2,77.0 539.6,77.0 540.0,77.0 540.4,77.1 540.8,77.1 541.2,77.1 541.6,77.2 542.0,77.2 542.4,77.2 542.8,77.3 543.2,77.3 543.6,77.3 544.0,77.4 544.4,77.4 544.8,77.4 545.2,77.5 545.4,77.5"/>
<path class="c" d="M236.0,118.4 236.4,118.4 236.8,118.4 237.2,118.4 237.6,118.4 238.0,118.4 238.4,118.4 238.8,118.4 239.2,118.4 239.6,118.4 240.0,118.4 240.4,118.4 240.8,118.4 241.2,118.4 241.6,118.4 242.0,118.4 242.4,118.3 242.8,118.3 243.2,118.3 243.6,118.3 244.0,118.3 244.4,118.3 244.8,118.3 245.0,118.3 245.2,118.3 245.6,118.3 246.0,118.3 246.4,118.3 246.8,118.3 247.2,118.3 247.6,118.2 248.0,118.2 248.4,118.2 248.8,118.2 249.2,118.2 249.6,118.2 250.0,118.1 250.4,118.1 250.8,118.1 251.2,118.0 251.5,118.0 251.6,118.0 252.0,117.6 252.4,116.9 252.8,116.1 252.9,115.9 253.2,115.1 253.6,113.7 253.9,112.5 254.0,112.1 254.4,110.4 254.7,108.7 254.8,107.9 255.2,102.8 255.4,100.0 255.6,97.0 256.0,91.0 256.0,91.0 256.4,85.5 256.5,85.1 256.8,88.0 257.0,91.0 257.2,93.9 257.6,100.0 257.6,100.0 258.0,105.0 258.4,108.7 258.4,108.7 258.8,110.9 259.2,112.4 259.4,113.0 259.6,113.5 260.0,114.5 260.4,115.2 260.6,115.4 260.8,115.5 261.2,115.7 261.6,115.9 262.0,116.1 262.4,116.2 262.8,116.3 263.2,116.3 263.3,116.3 263.6,116.2 264.0,116.0 264.4,115.7 264.8,115.3 265.2,115.1 265.4,115.1 265.6,115.1 266.0,115.3 266.4,115.6 266.8,115.8 267.0,115.8 267.2,115.8 267.6,115.9 268.0,115.9 268.4,115.9 268.6,115.9 268.8,115.9 269.2,115.8 269.6,115.7 270.0,115.5 270.4,115.3 270.8,115.1 271.2,114.8 271.6,114.6 272.0,114.3 272.4,114.1 272.5,114.0 272.8,113.8 273.2,113.6 273.6,113.3 274.0,113.0 274.4,112.7 274.8,112.3 275.2,112.0 275.6,111.6 275.8,111.4 276.0,111.2 276.4,110.7 276.8,110.2 277.2,109.6 277.6,109.0 278.0,108.3 278.3,107.8 278.4,107.6 278.8,106.9 279.2,106.1 279.6,105.2 280.0,104.2 280.3,103.3 280.4,103.0 280.8,101.6 281.2,99.9 281.6,98.0 281.8,97.0 282.0,95.9 282.4,93.5 282.8,90.6 283.0,89.0 283.2,87.1 283.6,82.7 284.0,78.0 284.0,78.0 284.4,73.3 284.8,68.9 284.9,68.0 285.2,65.2 285.6,63.1 285.6,63.1 286.0,65.2 286.3,68.0 286.4,69.0 286.8,74.0 287.1,78.0 287.2,79.3 287.6,84.4 288.0,89.0 288.0,89.0 288.4,92.6 288.8,95.6 289.0,97.0 289.2,98.3 289.6,100.8 290.0,102.9 290.1,103.3 290.4,104.5 290.8,105.8 291.2,107.0 291.4,107.5 291.6,108.0 292.0,109.0 292.4,109.8 292.8,110.5 292.8,110.5 293.2,111.1 293.6,111.8 294.0,112.3 294.4,112.6 294.6,112.6 294.8,112.6 295.2,112.3 295.6,112.0 295.9,111.9 296.0,111.9 296.4,112.2 296.8,112.6 297.1,112.7 297.2,112.7 297.6,112.6 298.0,112.4 298.4,112.3 298.4,112.3 298.8,112.7 299.2,113.6 299.6,114.5 299.6,114.5 300.0,115.3 300.4,116.1 300.8,116.7 300.9,116.8 301.2,117.1 301.6,117.4 302.0,117.7 302.4,117.9 302.8,118.1 303.2,118.2 303.6,118.3 303.6,118.3 304.0,118.3 304.4,118.3 304.8,118.4 305.2,118.4 305.6,118.4 306.0,118.4 306.4,118.4 306.8,118.4 307.2,118.4 307.6,118.5 308.0,118.5 308.4,118.5 308.8,118.5 309.2,118.5 309.6,118.5 310.0,118.5 310.4,118.5 310.8,118.5 311.2,118.5 311.6,118.5 311.7,118.5 312.0,118.5 312.4,118.5 312.8,118.4 313.2,118.3 313.6,118.2 314.0,118.1 314.4,117.9 314.8,117.7 315.2,117.6 315.6,117.4 316.0,117.2 316.4,117.1 316.8,116.9 317.0,116.8 317.2,116.7 317.6,116.5 318.0,116.4 318.4,116.2 318.8,116.0 319.2,115.8 319.6,115.5 320.0,115.3 320.4,115.0 320.8,114.7 321.2,114.4 321.3,114.3 321.6,114.0 322.0,113.6 322.4,113.0 322.8,112.4 323.2,111.7 323.6,111.0 323.7,110.8 324.0,110.2 324.4,109.2 324.8,108.1 325.2,106.9 325.5,105.8 325.6,105.4 326.0,103.5 326.4,101.2 326.8,98.6 326.9,98.0 327.2,96.0 327.6,93.0 328.0,89.7 328.1,88.8 328.4,86.0 328.8,81.7 329.0,79.5 329.2,77.2 329.6,72.2 329.8,69.6 330.0,66.8 330.4,60.8 330.6,58.0 330.8,55.0 331.2,49.4 331.4,48.4 331.6,49.4 332.0,55.1 332.2,58.0 332.4,60.5 332.8,65.7 333.1,69.6 333.2,70.9 333.6,75.9 334.0,80.8 334.1,82.0 334.4,85.5 334.8,90.1 335.1,93.0 335.2,93.9 335.6,97.0 336.0,99.8 336.3,101.5 336.4,102.0 336.8,104.1 337.2,105.9 337.6,107.3 337.8,107.9 338.0,108.4 338.4,109.3 338.8,110.0 339.2,110.7 339.6,111.3 340.0,111.8 340.0,111.8 340.4,112.3 340.8,112.8 341.2,113.2 341.6,113.6 342.0,113.9 342.4,114.2 342.5,114.3 342.8,114.5 343.2,114.8 343.6,115.0 344.0,115.2 344.4,115.4 344.8,115.6 345.2,115.8 345.6,116.0 346.0,116.1 346.4,116.3 346.5,116.3 346.8,116.4 347.2,116.5 347.6,116.7 348.0,116.8 348.4,116.9 348.8,117.0 349.2,117.1 349.6,117.2 350.0,117.3 350.4,117.4 350.8,117.5 351.0,117.5 351.2,117.5 351.6,117.6 352.0,117.6 352.4,117.7 352.8,117.7 353.2,117.8 353.6,117.8 354.0,117.9 354.4,117.9 354.8,118.0 355.2,118.0 355.6,118.0 356.0,118.1 356.4,118.1 356.8,118.2 357.2,118.2 357.6,118.2 358.0,118.3 358.4,118.3 358.8,118.3 359.2,118.3 359.6,118.4 360.0,118.4 360.4,118.4 360.8,118.4 361.2,118.4 361.6,118.5 362.0,118.5 362.4,118.5 362.8,118.5 363.2,118.5 363.6,118.5 363.8,118.5 364.0,118.5 364.4,118.5 364.8,118.5 365.2,118.5 365.6,118.5 366.0,118.5 366.4,118.5 366.8,118.5 367.2,118.5 367.6,118.5 368.0,118.4 368.4,118.4 368.8,118.4 369.2,118.4 369.6,118.4 370.0,118.4 370.4,118.4 370.8,118.4 371.2,118.4 371.2,118.4 371.6,118.4 372.0,118.4 372.4,118.4 372.8,118.4 373.2,118.4 373.6,118.4 374.0,118.4 374.4,118.4 374.8,118.4 375.2,118.4 375.6,118.4 376.0,118.4 376.4,118.4 376.8,118.4 377.2,118.4 377.6,118.4 378.0,118.4 378.4,118.4 378.8,118.4 379.2,118.4 379.6,118.4 380.0,118.3 380.4,118.3 380.8,118.3 381.2,118.3 381.6,118.3 382.0,118.3 382.4,118.3 382.8,118.3 383.2,118.3 383.6,118.3 384.0,118.3 384.4,118.3 384.8,118.3 385.2,118.3 385.6,118.3 386.0,118.3 386.4,118.3 386.8,118.3 387.2,118.3 387.6,118.3 388.0,118.3 388.4,118.3 388.8,118.3 389.2,118.3 389.6,118.3 390.0,118.3 390.4,118.3 390.8,118.3 391.2,118.3 391.6,118.3 392.0,118.3 392.4,118.3 392.8,118.3 393.2,118.3 393.6,118.3 394.0,118.3 394.4,118.3 394.8,118.3 395.2,118.3 395.6,118.3 396.0,118.3 396.4,118.3 396.8,118.3 397.2,118.3 397.6,118.3 398.0,118.3 398.4,118.3 398.8,118.3 399.2,118.3 399.6,118.3 400.0,118.3 400.4,118.3 400.8,118.3 401.2,118.3 401.6,118.3 402.0,118.3 402.4,118.3 402.8,118.3 403.2,118.3 403.6,118.3 404.0,118.3 404.4,118.3 404.8,118.3 405.2,118.2 405.6,118.2 406.0,118.2 406.4,118.2 406.8,118.2 407.2,118.2 407.6,118.2 408.0,118.2 408.4,118.2 408.8,118.2 409.2,118.2 409.5,118.2 409.6,118.2 410.0,118.2 410.4,118.2 410.8,118.1 411.2,118.1 411.6,118.1 412.0,118.0 412.4,118.0 412.8,117.9 413.2,117.8 413.5,117.8 413.6,117.8 414.0,117.7 414.4,117.6 414.8,117.5 415.2,117.3 415.5,117.2 415.6,117.2 416.0,117.0 416.4,116.8 416.8,116.5 417.2,116.2 417.5,116.0 417.6,115.9 418.0,115.5 418.4,115.0 418.8,114.5 419.0,114.3 419.2,114.1 419.6,113.7 420.0,113.4 420.4,113.3 420.4,113.3 420.8,113.5 421.2,113.8 421.6,114.3 421.8,114.5 422.0,114.7 422.4,115.3 422.8,115.9 423.2,116.4 423.3,116.5 423.6,116.7 424.0,117.0 424.4,117.3 424.8,117.5 425.2,117.7 425.5,117.8 425.6,117.8 426.0,117.9 426.4,118.0 426.8,118.1 427.2,118.1 427.6,118.2 428.0,118.2 428.0,118.2 428.4,118.2 428.8,118.2 429.2,118.2 429.6,118.2 430.0,118.2 430.4,118.2 430.8,118.2 431.2,118.2 431.6,118.2 432.0,118.2 432.4,118.2 432.8,118.2 432.8,118.2 433.2,118.2 433.6,118.2 434.0,118.2 434.4,118.2 434.8,118.2 435.2,118.2 435.6,118.2 436.0,118.2 436.4,118.2 436.8,118.2 437.2,118.2 437.6,118.2 438.0,118.2 438.4,118.2 438.8,118.2 439.2,118.2 439.6,118.2 440.0,118.2 440.4,118.2 440.8,118.2 441.2,118.2 441.6,118.2 442.0,118.2 442.4,118.2 442.8,118.2 443.2,118.2 443.6,118.2 444.0,118.2 444.4,118.2 444.8,118.2 445.2,118.2 445.6,118.2 446.0,118.2 446.4,118.2 446.8,118.2 447.2,118.2 447.6,118.2 448.0,118.2 448.4,118.2 448.8,118.2 449.2,118.2 449.6,118.2 450.0,118.2 450.4,118.2 450.8,118.2 451.2,118.2 451.6,118.2 452.0,118.2 452.4,118.2 452.8,118.2 453.2,118.2 453.6,118.2 454.0,118.2 454.4,118.2 454.8,118.2 455.2,118.2 455.6,118.2 456.0,118.2 456.4,118.2 456.8,118.2 457.2,118.2 457.6,118.2 458.0,118.2 458.4,118.2 458.8,118.2 459.2,118.2 459.6,118.2 460.0,118.2 460.4,118.2 460.8,118.2 461.2,118.2 461.6,118.2 462.0,118.2 462.4,118.2 462.8,118.2 463.2,118.2 463.6,118.2 464.0,118.2 464.4,118.2 464.8,118.2 465.2,118.2 465.6,118.1 466.0,118.1 466.4,118.1 466.8,118.1 467.2,118.1 467.6,118.1 468.0,118.1 468.4,118.1 468.8,118.1 469.2,118.1 469.6,118.1 470.0,118.1 470.4,118.1 470.8,118.1 471.2,118.1 471.6,118.1 472.0,118.1 472.4,118.1 472.8,118.1 473.2,118.1 473.6,118.1 474.0,118.1 474.4,118.1 474.8,118.1 475.2,118.1 475.6,118.1 476.0,118.1 476.4,118.1 476.8,118.1 477.2,118.1 477.6,118.1 478.0,118.1 478.4,118.1 478.8,118.1 479.2,118.1 479.6,118.1 480.0,118.1 480.4,118.1 480.8,118.1 481.2,118.1 481.6,118.0 482.0,118.0 482.4,118.0 482.8,118.0 483.2,118.0 483.6,118.0 484.0,118.0 484.4,118.0 484.8,118.0 485.2,118.0 485.6,118.0 486.0,118.0 486.4,118.0 486.5,118.0 486.8,118.0 487.2,117.9 487.6,117.8 488.0,117.6 488.4,117.4 488.8,117.1 489.0,117.0 489.2,116.8 489.6,116.3 490.0,115.5 490.4,114.8 490.8,114.3 491.1,114.2 491.2,114.2 491.6,114.7 492.0,115.5 492.4,116.4 492.8,117.0 492.8,117.0 493.2,117.3 493.6,117.7 494.0,117.9 494.4,118.0 494.5,118.0 494.8,118.0 495.2,118.0 495.6,118.0 496.0,118.0 496.4,118.0 496.8,118.0 497.2,118.0 497.6,118.0 498.0,118.0 498.4,118.0 498.8,118.0 499.2,118.0 499.6,118.0 500.0,118.0 500.4,118.0 500.8,118.0 501.2,118.0 501.6,118.0 502.0,118.0 502.4,118.0 502.8,118.0 503.2,118.0 503.6,118.0 504.0,118.0 504.4,118.0 504.8,118.0 505.2,118.0 505.6,118.0 506.0,118.0 506.4,118.0 506.8,118.0 507.2,118.0 507.6,118.0 508.0,118.0 508.4,118.0 508.8,118.0 509.2,118.0 509.6,118.0 509.6,118.0 510.0,118.0 510.4,117.9 510.8,117.9 511.2,117.8 511.6,117.7 512.0,117.5 512.4,117.4 512.8,117.3 513.2,117.2 513.6,117.1 514.0,117.0 514.0,117.0 514.4,116.9 514.8,116.8 515.2,116.8 515.6,116.7 516.0,116.6 516.4,116.5 516.8,116.5 517.2,116.4 517.6,116.3 518.0,116.3 518.4,116.3 518.5,116.3 518.8,116.3 519.2,116.3 519.6,116.3 520.0,116.3 520.4,116.4 520.8,116.4 521.2,116.4 521.6,116.4 522.0,116.4 522.4,116.5 522.8,116.5 523.0,116.5 523.2,116.5 523.6,116.5 524.0,116.6 524.4,116.6 524.8,116.6 525.2,116.6 525.6,116.7 526.0,116.7 526.4,116.7 526.8,116.7 527.2,116.8 527.5,116.8 527.6,116.8 528.0,116.9 528.4,116.9 528.8,117.0 529.2,117.0 529.6,117.1 530.0,117.2 530.4,117.2 530.8,117.3 531.2,117.4 531.6,117.5 532.0,117.5 532.4,117.6 532.8,117.7 533.2,117.8 533.6,117.9 534.0,117.9 534.4,118.0 534.8,118.1 535.2,118.1 535.6,118.2 536.0,118.2 536.4,118.2 536.8,118.3 537.2,118.3 537.6,118.3 537.7,118.3 538.0,118.3 538.4,118.3 538.8,118.3 539.2,118.3 539.6,118.3 540.0,118.3 540.4,118.3 540.8,118.3 541.2,118.3 541.6,118.3 542.0,118.3 542.4,118.3 542.8,118.3 543.2,118.3 543.6,118.3 544.0,118.3 544.4,118.3 544.8,118.3 545.2,118.3 545.4,118.3"/>
<path class="c" d="M247.9,193.3 248.3,193.3 248.7,193.3 249.1,193.3 249.5,193.3 249.9,193.2 250.3,193.2 250.7,193.2 251.1,193.2 251.5,193.2 251.9,193.2 252.3,193.1 252.7,193.1 253.1,193.1 253.5,193.1 253.9,193.1 254.3,193.1 254.7,193.0 255.1,193.0 255.5,193.0 255.9,193.0 256.3,193.0 256.7,193.0 257.1,192.9 257.5,192.9 257.9,192.9 258.0,192.9 258.3,192.9 258.7,192.9 259.1,192.9 259.5,192.8 259.9,192.8 260.3,192.8 260.7,192.8 261.1,192.8 261.5,192.7 261.9,192.7 262.3,192.7 262.7,192.7 263.1,192.7 263.5,192.6 263.9,192.6 264.3,192.6 264.7,192.5 265.0,192.5 265.1,192.5 265.5,192.4 265.9,192.3 266.3,192.2 266.7,192.1 267.1,192.0 267.5,191.8 267.9,191.6 268.3,191.4 268.7,191.2 269.1,191.0 269.5,190.8 269.9,190.6 270.2,190.4 270.3,190.3 270.7,190.1 271.1,189.8 271.5,189.5 271.9,189.2 272.3,188.8 272.5,188.6 272.7,188.4 273.1,188.0 273.5,187.5 273.9,187.0 274.3,186.4 274.4,186.2 274.7,185.5 275.1,184.4 275.5,183.0 275.5,183.0 275.9,181.5 276.3,179.8 276.5,178.8 276.7,177.6 277.1,174.8 277.4,172.5 277.5,171.7 277.9,168.4 278.2,166.3 278.3,165.7 278.7,163.4 279.1,161.8 279.2,161.5 279.5,160.9 279.9,160.2 280.3,159.9 280.3,159.9 280.7,160.5 281.1,161.7 281.3,162.5 281.5,163.5 281.9,166.4 282.3,169.7 282.4,170.5 282.7,172.9 283.1,176.1 283.4,178.5 283.5,179.3 283.9,182.4 284.3,185.1 284.3,185.1 284.7,187.2 285.1,188.9 285.3,189.5 285.5,190.0 285.9,191.0 286.3,191.7 286.6,191.9 286.7,191.9 287.1,191.8 287.5,191.7 287.6,191.7 287.9,191.5 288.3,191.1 288.5,191.0 288.7,190.9 289.1,190.8 289.5,190.7 289.8,190.6 289.9,190.6 290.3,190.3 290.7,189.9 291.1,189.5 291.3,189.3 291.5,189.1 291.9,188.6 292.3,188.0 292.7,187.2 292.7,187.2 293.1,186.1 293.5,184.7 293.8,183.5 293.9,183.1 294.3,181.3 294.7,179.3 294.8,178.8 295.1,177.4 295.5,175.5 295.7,174.5 295.9,173.4 296.3,171.3 296.5,170.5 296.7,169.9 297.1,169.0 297.3,168.7 297.5,168.4 297.9,168.0 298.1,167.7 298.3,167.3 298.7,166.4 298.9,165.8 299.1,165.2 299.5,163.6 299.6,163.1 299.9,161.4 300.3,158.7 300.4,158.0 300.7,155.6 301.1,152.6 301.1,152.6 301.5,150.2 301.9,148.1 302.2,147.0 302.3,146.7 302.7,145.7 303.1,144.9 303.4,144.7 303.5,144.8 303.9,146.1 304.3,148.4 304.4,149.0 304.7,151.4 305.1,155.8 305.3,157.9 305.5,159.9 305.9,164.0 306.1,166.0 306.3,168.0 306.7,172.1 306.9,173.6 307.1,174.8 307.5,176.9 307.7,177.5 307.9,178.0 308.3,178.7 308.6,178.9 308.7,178.8 309.1,177.3 309.5,175.0 309.5,175.0 309.9,172.2 310.3,168.4 310.3,168.4 310.7,163.4 311.0,159.0 311.1,157.5 311.5,151.0 311.6,149.5 311.9,145.1 312.3,139.5 312.5,137.0 312.7,134.6 313.1,130.0 313.4,127.5 313.5,126.8 313.9,124.3 314.3,123.2 314.3,123.2 314.7,124.4 315.1,127.1 315.3,128.5 315.5,130.0 315.9,133.8 316.3,138.0 316.4,139.0 316.7,142.1 317.1,146.4 317.4,149.5 317.5,150.5 317.9,154.3 318.3,158.1 318.5,160.0 318.7,161.9 319.1,165.8 319.5,169.5 319.5,169.5 319.9,172.8 320.3,176.1 320.6,178.8 320.7,179.9 321.1,184.3 321.1,184.3 321.5,186.3 321.9,187.8 322.3,188.8 322.3,188.8 322.7,189.6 323.1,190.3 323.5,190.8 323.9,191.2 324.0,191.2 324.3,191.3 324.7,191.4 325.1,191.5 325.5,191.6 325.9,191.6 326.3,191.7 326.7,191.7 327.0,191.7 327.1,191.7 327.5,191.7 327.9,191.7 328.3,191.7 328.7,191.6 329.1,191.6 329.5,191.5 329.9,191.4 330.3,191.4 330.5,191.3 330.7,191.1 331.1,190.1 331.3,189.5 331.5,188.7 331.9,186.4 332.0,185.7 332.3,182.7 332.6,179.0 332.7,177.8 333.1,172.4 333.2,171.2 333.5,167.6 333.9,163.4 334.0,162.5 334.3,159.9 334.7,157.1 334.9,156.6 335.1,157.3 335.5,161.1 335.6,162.0 335.9,164.8 336.3,168.7 336.4,169.7 336.7,172.6 337.1,176.5 337.1,176.5 337.5,180.5 337.8,182.8 337.9,183.3 338.3,185.2 338.7,186.5 338.8,186.8 339.1,187.6 339.5,188.5 339.9,189.2 340.0,189.4 340.3,189.8 340.7,190.3 341.1,190.7 341.5,191.0 341.7,191.2 341.9,191.4 342.3,191.6 342.7,191.9 343.1,192.1 343.5,192.3 343.6,192.3 343.9,192.4 344.3,192.4 344.7,192.5 345.1,192.5 345.5,192.6 345.9,192.6 346.3,192.7 346.7,192.7 347.1,192.7 347.3,192.7 347.5,192.7 347.9,192.7 348.3,192.6 348.7,192.5 349.1,192.4 349.5,192.2 349.9,192.1 350.0,192.1 350.3,192.0 350.7,191.9 351.1,191.7 351.5,191.6 351.9,191.4 352.3,191.3 352.4,191.3 352.7,191.2 353.1,191.1 353.5,191.0 353.9,190.9 354.3,190.9 354.7,190.8 355.1,190.7 355.5,190.7 355.9,190.6 356.3,190.6 356.5,190.6 356.7,190.6 357.1,190.6 357.5,190.6 357.9,190.6 358.3,190.6 358.7,190.7 359.1,190.7 359.5,190.7 359.9,190.7 360.3,190.7 360.7,190.8 361.1,190.8 361.1,190.8 361.5,190.8 361.9,190.9 362.3,191.0 362.7,191.2 363.1,191.3 363.5,191.4 363.9,191.6 364.3,191.7 364.7,191.8 365.1,191.9 365.5,192.0 365.5,192.0 365.9,192.1 366.3,192.1 366.7,192.2 367.1,192.2 367.5,192.2 367.9,192.3 368.3,192.3 368.7,192.4 369.1,192.4 369.5,192.5 369.9,192.5 370.3,192.5 370.7,192.6 371.1,192.6 371.5,192.6 371.9,192.6 372.3,192.6 372.7,192.7 373.1,192.7 373.5,192.7 373.9,192.7 374.2,192.7 374.3,192.7 374.7,192.7 375.1,192.7 375.5,192.7 375.9,192.7 376.3,192.7 376.7,192.7 377.1,192.7 377.5,192.7 377.9,192.7 378.3,192.7 378.7,192.7 379.1,192.7 379.5,192.7 379.9,192.7 380.3,192.7 380.7,192.7 381.1,192.7 381.5,192.7 381.9,192.7 382.3,192.7 382.7,192.7 383.1,192.8 383.5,192.8 383.9,192.8 384.3,192.8 384.7,192.8 385.1,192.8 385.5,192.8 385.9,192.8 386.3,192.8 386.7,192.8 387.1,192.8 387.5,192.8 387.9,192.8 388.3,192.8 388.7,192.8 389.1,192.8 389.5,192.8 389.9,192.8 390.3,192.8 390.7,192.8 391.1,192.8 391.5,192.8 391.9,192.8 392.3,192.8 392.7,192.8 393.1,192.8 393.5,192.8 393.9,192.8 394.3,192.8 394.7,192.8 395.1,192.8 395.5,192.8 395.9,192.8 396.0,192.8 396.3,192.8 396.7,192.8 397.1,192.8 397.5,192.8 397.9,192.8 398.3,192.8 398.7,192.8 399.1,192.9 399.5,192.9 399.9,192.9 400.3,192.9 400.7,192.9 401.1,192.9 401.5,192.9 401.9,192.9 402.3,192.9 402.7,192.9 403.1,193.0 403.5,193.0 403.9,193.0 404.3,193.0 404.7,193.0 405.1,193.0 405.5,193.0 405.9,193.0 406.3,193.0 406.7,193.0 406.7,193.0 407.1,193.0 407.5,193.0 407.9,192.9 408.3,192.9 408.7,192.9 409.1,192.8 409.5,192.8 409.9,192.7 410.3,192.6 410.7,192.6 411.0,192.5 411.1,192.5 411.5,192.4 411.9,192.3 412.3,192.2 412.7,192.1 413.1,192.0 413.5,191.8 413.9,191.6 414.3,191.4 414.4,191.4 414.7,191.2 415.1,190.9 415.5,190.6 415.9,190.2 416.3,189.7 416.5,189.5 416.7,189.3 417.1,188.7 417.5,188.0 417.9,187.4 418.2,187.0 418.3,186.9 418.7,186.3 419.1,185.8 419.5,185.4 419.9,185.1 420.0,185.0 420.3,184.9 420.7,184.7 421.1,184.6 421.5,184.5 421.6,184.5 421.9,184.6 422.3,184.9 422.7,185.4 423.1,186.0 423.5,186.5 423.5,186.5 423.9,187.0 424.3,187.6 424.7,188.1 425.1,188.7 425.5,189.2 425.9,189.6 425.9,189.6 426.3,189.9 426.7,190.3 427.1,190.5 427.5,190.8 427.9,191.0 428.3,191.2 428.5,191.3 428.7,191.4 429.1,191.5 429.5,191.6 429.9,191.8 430.3,191.9 430.7,192.0 431.1,192.1 431.5,192.1 431.9,192.2 432.3,192.2 432.3,192.2 432.7,192.2 433.1,192.2 433.5,192.2 433.9,192.2 434.3,192.2 434.7,192.2 435.1,192.3 435.5,192.3 435.9,192.3 436.3,192.3 436.7,192.3 437.1,192.3 437.5,192.3 437.9,192.3 438.3,192.3 438.7,192.3 439.1,192.3 439.5,192.3 439.9,192.3 440.0,192.3 440.3,192.3 440.7,192.3 441.1,192.3 441.5,192.3 441.9,192.3 442.3,192.3 442.7,192.3 443.1,192.3 443.5,192.3 443.9,192.3 444.3,192.3 444.7,192.3 445.1,192.3 445.5,192.4 445.9,192.4 446.3,192.4 446.7,192.4 447.1,192.4 447.5,192.4 447.9,192.4 448.3,192.4 448.7,192.4 449.1,192.4 449.5,192.4 449.9,192.4 450.3,192.4 450.7,192.4 451.1,192.4 451.5,192.4 451.9,192.4 452.3,192.4 452.7,192.4 453.1,192.4 453.5,192.4 453.9,192.4 454.3,192.4 454.7,192.4 455.1,192.4 455.5,192.4 455.9,192.4 456.3,192.4 456.7,192.4 457.1,192.4 457.5,192.4 457.9,192.5 458.3,192.5 458.7,192.5 459.1,192.5 459.5,192.5 459.9,192.5 460.3,192.5 460.7,192.5 461.1,192.5 461.5,192.5 461.9,192.5 462.3,192.5 462.7,192.5 463.1,192.5 463.5,192.5 463.9,192.5 464.3,192.5 464.7,192.5 465.1,192.5 465.5,192.5 465.9,192.5 466.3,192.5 466.7,192.5 467.1,192.5 467.5,192.5 467.9,192.5 468.3,192.5 468.7,192.5 469.1,192.5 469.5,192.5 469.9,192.5 470.3,192.5 470.7,192.5 471.1,192.5 471.2,192.5 471.5,192.5 471.9,192.5 472.3,192.5 472.7,192.5 473.1,192.5 473.5,192.5 473.9,192.5 474.3,192.5 474.7,192.5 475.1,192.5 475.5,192.5 475.9,192.5 476.3,192.4 476.7,192.4 477.1,192.4 477.5,192.4 477.9,192.4 478.3,192.4 478.7,192.4 479.1,192.4 479.5,192.3 479.9,192.3 480.3,192.3 480.7,192.3 481.1,192.3 481.5,192.3 481.9,192.2 482.3,192.2 482.7,192.2 483.1,192.2 483.5,192.1 483.9,192.1 484.3,192.1 484.7,192.0 485.1,192.0 485.5,192.0 485.9,192.0 486.3,191.9 486.5,191.9 486.7,191.9 487.1,191.8 487.5,191.6 487.9,191.4 488.3,191.2 488.7,191.0 489.1,190.7 489.5,190.5 489.5,190.5 489.9,190.2 490.3,189.9 490.7,189.6 491.1,189.3 491.5,189.2 491.6,189.2 491.9,189.3 492.3,189.5 492.7,189.8 493.1,190.2 493.5,190.5 493.5,190.5 493.9,190.8 494.3,191.1 494.7,191.3 495.1,191.6 495.5,191.7 495.5,191.7 495.9,191.8 496.3,191.8 496.7,191.9 497.1,192.0 497.5,192.0 497.9,192.1 498.3,192.1 498.7,192.2 499.1,192.2 499.5,192.3 499.9,192.3 500.3,192.3 500.7,192.4 501.1,192.4 501.5,192.4 501.9,192.4 502.3,192.4 502.7,192.5 503.1,192.5 503.5,192.5 503.9,192.5 504.3,192.5 504.4,192.5 504.7,192.5 505.1,192.5 505.5,192.5 505.9,192.5 506.3,192.5 506.7,192.5 507.1,192.5 507.5,192.5 507.9,192.5 508.3,192.5 508.7,192.5 509.1,192.5 509.5,192.6 509.9,192.6 510.3,192.6 510.7,192.6 511.1,192.6 511.5,192.6 511.9,192.6 512.3,192.6 512.7,192.6 513.1,192.6 513.5,192.6 513.9,192.6 514.3,192.6 514.7,192.6 515.1,192.6 515.5,192.6 515.9,192.6 516.3,192.6 516.7,192.6 517.1,192.6 517.5,192.6 517.9,192.6 518.3,192.6 518.7,192.6 519.1,192.6 519.5,192.6 519.9,192.6 520.3,192.6 520.7,192.6 521.1,192.6 521.5,192.6 521.9,192.6 522.3,192.6 522.7,192.6 523.1,192.7 523.5,192.7 523.9,192.7 524.3,192.7 524.7,192.7 525.1,192.7 525.5,192.7 525.9,192.7 526.3,192.7 526.7,192.7 527.1,192.7 527.5,192.7 527.9,192.7 528.3,192.7 528.7,192.7 529.1,192.7 529.5,192.7 529.9,192.7 530.3,192.7 530.7,192.7 531.1,192.7 531.5,192.7 531.9,192.7 532.3,192.7 532.7,192.7 533.1,192.7 533.5,192.7 533.9,192.7 534.3,192.7 534.7,192.7 535.1,192.7 535.5,192.7 535.9,192.7 536.3,192.7 536.7,192.7 537.1,192.7 537.5,192.7 537.9,192.7 538.3,192.7 538.7,192.7 539.1,192.7 539.5,192.7 539.9,192.7 540.3,192.7 540.7,192.7 541.1,192.7 541.5,192.7 541.9,192.7 542.3,192.7 542.7,192.7 543.1,192.7 543.5,192.7 543.9,192.7 544.3,192.7 544.7,192.7 545.1,192.7 545.4,192.7"/>
<path class="c" d="M274.1,245.8 274.5,244.7 274.9,243.5 275.3,242.3 275.4,242.0 275.7,241.1 276.1,240.0 276.5,238.6 276.7,237.8 276.9,236.8 277.3,234.1 277.6,232.0 277.7,231.4 278.1,228.8 278.4,226.5 278.5,225.5 278.9,220.5 278.9,220.5 279.3,216.2 279.3,216.2 279.7,221.5 279.7,221.5 280.1,228.6 280.4,233.5 280.5,234.7 280.9,238.8 281.0,239.5 281.3,241.4 281.7,243.2 281.8,243.6 282.1,244.6 282.5,245.5 282.5,245.5 282.9,246.0 283.3,246.3 283.3,246.3 283.7,246.3 284.1,246.3 284.5,246.3 284.9,246.3 285.3,246.3 285.7,246.3 285.9,246.3 286.1,246.3 286.5,246.2 286.9,246.0 287.3,245.8 287.3,245.8 287.7,245.4 288.1,244.9 288.4,244.4 288.5,244.2 288.9,243.4 289.3,242.3 289.7,241.1 290.0,240.2 290.1,239.9 290.5,238.3 290.9,236.6 291.3,234.9 291.3,234.9 291.7,233.3 292.1,231.5 292.2,231.0 292.5,229.4 292.9,226.9 293.0,226.2 293.3,223.7 293.7,220.0 293.7,220.0 294.1,215.9 294.3,214.0 294.5,211.9 294.9,209.0 294.9,209.0 295.3,213.1 295.4,214.5 295.7,218.9 295.9,222.0 296.1,225.0 296.4,229.1 296.5,230.2 296.9,233.9 297.1,235.5 297.3,237.2 297.7,240.2 297.8,240.7 298.1,241.7 298.5,242.7 298.8,243.3 298.9,243.5 299.3,244.1 299.7,244.6 300.0,244.8 300.1,244.9 300.5,245.1 300.9,245.2 301.3,245.3 301.7,245.4 301.8,245.4 302.1,245.4 302.5,245.4 302.9,245.4 303.3,245.4 303.6,245.4 303.7,245.4 304.1,245.2 304.5,244.8 304.9,244.4 305.2,244.0 305.3,243.9 305.7,243.2 306.1,242.4 306.5,241.5 306.5,241.5 306.9,240.5 307.3,239.4 307.4,239.2 307.7,238.5 308.0,238.1 308.1,238.2 308.5,239.2 308.7,239.8 308.9,240.4 309.3,241.7 309.4,242.0 309.7,242.7 310.1,243.5 310.2,243.6 310.5,243.9 310.9,244.1 311.3,244.3 311.5,244.3 311.7,244.3 312.1,244.0 312.5,243.6 312.8,243.3 312.9,243.2 313.3,242.5 313.7,241.8 314.0,241.2 314.1,241.0 314.5,240.3 314.8,239.8 314.9,239.7 315.3,239.3 315.3,239.3 315.7,240.0 316.0,240.8 316.1,241.1 316.5,242.4 316.7,243.0 316.9,243.4 317.3,244.1 317.5,244.4 317.7,244.6 318.1,245.0 318.5,245.3 318.9,245.5 319.0,245.6 319.3,245.7 319.7,245.9 320.1,246.1 320.5,246.2 320.9,246.3 321.1,246.3 321.3,246.3 321.7,246.3 322.1,246.3 322.5,246.3 322.9,246.3 323.3,246.3 323.7,246.3 324.1,246.3 324.5,246.3 324.9,246.3 325.3,246.3 325.7,246.3 326.1,246.3 326.2,246.3 326.5,246.3 326.9,246.2 327.3,246.0 327.7,245.7 328.1,245.5 328.2,245.4 328.5,245.2 328.9,244.8 329.3,244.3 329.7,243.7 329.8,243.6 330.1,243.1 330.5,242.3 330.9,241.4 331.3,240.5 331.3,240.5 331.7,239.4 332.1,238.3 332.5,237.2 332.6,237.0 332.9,236.3 333.3,235.3 333.7,234.9 333.7,234.9 334.1,236.0 334.4,237.5 334.5,238.0 334.9,240.6 335.2,242.2 335.3,242.6 335.7,243.8 336.1,244.7 336.3,245.0 336.5,245.3 336.9,245.7 337.3,246.1 337.7,246.3 337.8,246.3 338.1,246.3 338.5,246.1 338.9,245.9 339.3,245.6 339.5,245.4 339.7,245.2 340.1,244.5 340.5,243.5 340.9,242.5 341.0,242.3 341.3,241.5 341.7,240.3 342.1,239.1 342.3,238.5 342.5,237.9 342.9,236.7 343.3,236.1 343.3,236.1 343.7,237.1 344.1,239.0 344.1,239.0 344.5,241.0 344.9,242.9 345.1,243.6 345.3,244.0 345.7,244.8 346.1,245.3 346.3,245.5 346.5,245.7 346.9,246.0 347.3,246.2 347.7,246.3 347.7,246.3 348.1,246.0 348.5,245.4 348.9,244.6 349.0,244.4 349.3,243.6 349.7,242.2 350.0,241.0 350.1,240.6 350.5,238.5 350.9,235.8 351.0,235.0 351.3,232.0 351.7,226.7 351.9,224.0 352.1,221.0 352.5,214.6 352.7,212.0 352.9,210.1 353.3,206.9 353.5,205.5 353.7,204.2 354.1,202.0 354.2,201.4 354.5,199.8 354.8,198.0 354.9,197.2 355.3,193.0 355.3,193.0 355.7,186.7 355.8,185.0 356.1,178.6 356.3,176.3 356.5,179.0 356.8,187.0 356.9,189.3 357.3,199.1 357.4,201.4 357.7,207.8 357.9,212.0 358.1,216.3 358.4,222.4 358.5,224.3 358.9,231.0 358.9,231.0 359.3,236.3 359.4,237.1 359.7,238.8 360.1,240.4 360.3,241.0 360.5,241.5 360.9,242.4 361.3,243.1 361.5,243.4 361.7,243.6 362.1,244.0 362.5,244.3 362.9,244.6 363.3,244.8 363.3,244.8 363.7,245.0 364.1,245.1 364.5,245.3 364.9,245.4 365.3,245.4 365.7,245.5 365.7,245.5 366.1,245.5 366.5,245.6 366.9,245.6 367.3,245.6 367.7,245.7 368.1,245.7 368.5,245.7 368.9,245.7 369.3,245.7 369.7,245.7 370.1,245.8 370.5,245.8 370.9,245.8 371.3,245.8 371.7,245.8 372.0,245.8 372.1,245.8 372.5,245.8 372.9,245.8 373.3,245.8 373.7,245.8 374.1,245.8 374.5,245.8 374.9,245.8 375.3,245.8 375.7,245.8 376.1,245.8 376.5,245.8 376.9,245.8 377.3,245.9 377.7,245.9 378.1,245.9 378.5,245.9 378.9,245.9 379.3,245.9 379.7,245.9 380.1,245.9 380.5,245.9 380.9,245.9 381.3,245.9 381.7,245.9 382.1,245.9 382.5,245.9 382.9,245.9 383.3,245.9 383.7,245.9 384.1,245.9 384.5,245.9 384.9,245.9 385.3,245.9 385.7,245.9 386.1,245.9 386.5,245.9 386.7,245.9 386.9,245.9 387.3,245.9 387.7,245.9 388.1,245.9 388.5,245.9 388.9,245.9 389.3,245.9 389.7,245.9 390.1,245.9 390.5,245.9 390.9,245.9 391.3,245.9 391.7,245.9 392.1,245.9 392.5,245.9 392.9,245.9 393.3,245.9 393.7,245.9 394.1,245.9 394.5,245.9 394.9,245.9 395.3,246.0 395.7,246.0 396.1,246.0 396.5,246.0 396.9,246.0 397.3,246.0 397.7,246.0 398.1,246.0 398.5,246.0 398.9,246.0 399.3,246.0 399.7,246.0 400.1,246.0 400.5,246.0 400.9,246.0 401.3,246.0 401.7,246.0 402.1,246.0 402.5,246.0 402.9,246.0 403.3,246.0 403.7,246.0 404.1,246.0 404.5,246.0 404.9,246.0 405.3,246.0 405.7,246.0 406.1,246.0 406.5,246.0 406.9,246.0 407.3,246.0 407.7,246.0 408.1,246.0 408.5,246.0 408.9,246.0 409.3,246.0 409.3,246.0 409.7,246.0 410.1,246.0 410.5,246.0 410.9,246.0 411.3,246.0 411.7,246.0 412.1,245.9 412.5,245.9 412.9,245.9 413.3,245.9 413.7,245.9 414.1,245.8 414.5,245.8 414.9,245.8 415.3,245.7 415.7,245.7 416.1,245.7 416.5,245.6 416.9,245.6 417.0,245.6 417.3,245.6 417.7,245.5 418.1,245.4 418.5,245.3 418.9,245.2 419.3,245.1 419.5,245.0 419.7,244.9 420.1,244.7 420.5,244.4 420.9,244.3 420.9,244.3 421.3,244.4 421.7,244.6 422.1,244.9 422.5,245.0 422.5,245.0 422.9,245.0 423.3,244.9 423.7,244.9 424.0,244.8 424.1,244.8 424.5,244.6 424.9,244.3 425.3,244.0 425.5,243.8 425.7,243.6 426.1,243.0 426.5,242.4 426.8,242.0 426.9,241.9 427.3,241.3 427.7,240.7 428.0,240.6 428.1,240.6 428.5,241.1 428.9,241.8 429.2,242.3 429.3,242.5 429.7,243.2 430.1,244.0 430.5,244.5 430.5,244.5 430.9,244.8 431.3,245.1 431.7,245.3 432.1,245.5 432.2,245.5 432.5,245.6 432.9,245.7 433.3,245.8 433.7,245.8 434.1,245.9 434.5,245.9 434.9,246.0 435.3,246.0 435.4,246.0 435.7,246.0 436.1,246.0 436.5,246.0 436.9,246.0 437.3,246.1 437.7,246.1 438.1,246.1 438.5,246.1 438.9,246.1 439.3,246.1 439.7,246.1 440.1,246.1 440.5,246.1 440.9,246.1 441.3,246.2 441.7,246.2 442.1,246.2 442.5,246.2 442.9,246.2 443.3,246.2 443.7,246.2 444.1,246.2 444.5,246.2 444.9,246.2 445.3,246.2 445.7,246.2 446.1,246.3 446.5,246.3 446.9,246.3 447.3,246.3 447.7,246.3 448.1,246.3 448.5,246.3 448.9,246.3 449.3,246.3 449.7,246.3 450.1,246.3 450.5,246.3 450.9,246.3 451.3,246.3 451.7,246.3 452.1,246.4 452.5,246.4 452.9,246.4 453.3,246.4 453.7,246.4 454.1,246.4 454.5,246.4 454.9,246.4 455.3,246.4 455.7,246.4 456.1,246.4 456.5,246.4 456.9,246.4 457.3,246.4 457.7,246.4 458.1,246.4 458.5,246.4 458.9,246.4 459.3,246.4 459.7,246.4 460.1,246.4 460.5,246.4 460.9,246.4 461.3,246.4 461.7,246.4 462.1,246.5 462.5,246.5 462.9,246.5 463.3,246.5 463.7,246.5 464.1,246.5 464.5,246.5 464.9,246.5 465.3,246.5 465.7,246.5 466.1,246.5 466.5,246.5 466.9,246.5 467.3,246.5 467.7,246.5 468.1,246.5 468.5,246.5 468.9,246.5 469.3,246.5 469.7,246.5 470.1,246.5 470.5,246.5 470.9,246.5 471.3,246.5 471.7,246.5 472.1,246.5 472.5,246.5 472.9,246.5 473.3,246.5 473.7,246.5 474.1,246.5 474.5,246.5 474.9,246.5 475.3,246.5 475.7,246.5 476.1,246.5 476.5,246.5 476.9,246.5 477.3,246.5 477.6,246.5 477.7,246.5 478.1,246.4 478.5,246.3 478.9,246.2 479.3,246.0 479.7,245.8 480.0,245.7 480.1,245.6 480.5,245.3 480.9,244.9 481.3,244.5 481.7,244.2 481.9,244.2 482.1,244.3 482.5,244.6 482.9,245.1 483.3,245.6 483.5,245.7 483.7,245.8 484.1,246.0 484.5,246.2 484.9,246.3 485.3,246.4 485.5,246.4 485.7,246.4 486.1,246.4 486.5,246.4 486.9,246.4 487.3,246.4 487.7,246.4 488.1,246.4 488.5,246.4 488.9,246.4 489.3,246.4 489.7,246.4 490.1,246.4 490.5,246.4 490.9,246.4 491.3,246.4 491.7,246.4 492.1,246.4 492.5,246.4 492.9,246.4 493.3,246.4 493.7,246.4 494.1,246.4 494.5,246.4 494.9,246.3 495.3,246.3 495.7,246.3 496.1,246.3 496.5,246.3 496.9,246.3 497.3,246.3 497.7,246.3 498.1,246.3 498.5,246.3 498.9,246.3 499.3,246.3 499.7,246.3 500.1,246.2 500.5,246.2 500.9,246.2 501.3,246.2 501.7,246.2 501.9,246.2 502.1,246.2 502.5,246.1 502.9,246.1 503.3,245.9 503.7,245.8 504.1,245.6 504.5,245.5 504.9,245.3 505.3,245.1 505.5,245.0 505.7,244.9 506.1,244.5 506.5,244.1 506.9,243.6 507.3,243.2 507.7,242.8 508.1,242.6 508.3,242.6 508.5,242.6 508.9,242.9 509.3,243.4 509.7,244.0 510.1,244.4 510.2,244.5 510.5,244.7 510.9,245.1 511.3,245.3 511.7,245.6 512.1,245.7 512.1,245.7 512.5,245.8 512.9,245.9 513.3,245.9 513.7,246.0 514.1,246.0 514.5,246.1 514.9,246.2 515.3,246.2 515.7,246.3 516.1,246.3 516.5,246.3 516.9,246.4 517.3,246.4 517.7,246.4 518.1,246.4 518.5,246.5 518.9,246.5 519.3,246.5 519.7,246.5 520.0,246.5 520.1,246.5 520.5,246.5 520.9,246.5 521.3,246.5 521.7,246.5 522.1,246.5 522.5,246.5 522.9,246.5 523.3,246.6 523.7,246.6 524.1,246.6 524.5,246.6 524.9,246.6 525.3,246.6 525.7,246.6 526.1,246.6 526.5,246.6 526.9,246.6 527.3,246.6 527.7,246.6 528.1,246.6 528.5,246.6 528.9,246.6 529.3,246.6 529.7,246.6 530.1,246.6 530.5,246.6 530.9,246.6 531.3,246.6 531.7,246.6 532.1,246.6 532.5,246.7 532.9,246.7 533.3,246.7 533.7,246.7 534.1,246.7 534.5,246.7 534.9,246.7 535.3,246.7 535.7,246.7 536.1,246.7 536.5,246.7 536.9,246.7 537.3,246.7 537.7,246.7 538.1,246.7 538.5,246.7 538.9,246.7 539.3,246.7 539.7,246.7 540.1,246.7 540.5,246.7 540.9,246.7 541.3,246.7 541.7,246.7 542.1,246.7 542.5,246.7 542.9,246.7 543.3,246.7 543.7,246.7 544.1,246.7 544.5,246.7 544.9,246.7 545.3,246.7 545.4,246.7"/>
<path class="c" d="M236.0,294.0 236.4,293.8 236.8,293.7 237.2,293.6 237.6,293.4 238.0,293.3 238.4,293.2 238.8,293.1 239.2,293.1 239.6,293.0 240.0,293.0 240.2,293.0 240.4,293.0 240.8,293.0 241.2,293.1 241.6,293.2 242.0,293.2 242.4,293.4 242.8,293.5 243.2,293.6 243.6,293.7 244.0,293.9 244.4,294.0 244.8,294.2 245.2,294.3 245.6,294.4 246.0,294.5 246.4,294.6 246.8,294.7 247.2,294.8 247.6,294.8 247.9,294.8 248.0,294.8 248.4,294.8 248.8,294.8 249.2,294.7 249.6,294.7 250.0,294.6 250.4,294.6 250.8,294.5 251.2,294.5 251.6,294.4 252.0,294.3 252.4,294.3 252.8,294.2 253.2,294.1 253.6,294.1 254.0,294.0 254.0,294.0 254.4,293.9 254.8,293.9 255.2,293.8 255.6,293.7 256.0,293.6 256.4,293.6 256.8,293.5 257.2,293.4 257.6,293.3 258.0,293.3 258.4,293.2 258.8,293.1 259.2,293.1 259.6,293.1 260.0,293.0 260.4,293.0 260.7,293.0 260.8,293.0 261.2,293.0 261.6,293.0 262.0,293.0 262.4,293.0 262.8,293.0 263.2,293.0 263.6,293.0 264.0,293.0 264.4,293.0 264.8,293.0 265.2,293.0 265.6,293.0 266.0,293.1 266.4,293.1 266.8,293.1 267.2,293.1 267.6,293.1 268.0,293.1 268.4,293.1 268.8,293.1 269.2,293.1 269.6,293.1 270.0,293.1 270.4,293.1 270.8,293.1 271.2,293.2 271.6,293.2 272.0,293.2 272.4,293.2 272.8,293.2 273.2,293.2 273.6,293.2 274.0,293.2 274.4,293.2 274.8,293.2 275.2,293.2 275.6,293.2 276.0,293.2 276.0,293.2 276.4,293.2 276.8,293.2 277.2,293.1 277.6,293.1 278.0,293.0 278.4,292.9 278.8,292.8 279.2,292.7 279.4,292.6 279.6,292.5 280.0,292.3 280.4,291.9 280.8,291.5 281.0,291.2 281.2,290.9 281.6,290.0 281.8,289.5 282.0,289.1 282.4,288.2 282.4,288.2 282.8,287.5 283.0,287.0 283.2,286.4 283.5,285.0 283.6,284.4 284.0,281.0 284.0,281.0 284.4,276.5 284.5,275.0 284.8,268.1 285.0,262.0 285.2,254.2 285.4,245.0 285.6,232.8 285.8,225.2 286.0,232.4 286.2,245.0 286.4,256.9 286.5,262.0 286.8,272.4 286.9,275.0 287.2,281.4 287.3,283.0 287.6,287.2 287.8,289.0 288.0,290.1 288.4,291.6 288.6,292.0 288.8,292.3 289.2,292.8 289.6,293.1 290.0,293.3 290.0,293.3 290.4,293.4 290.8,293.5 291.2,293.5 291.6,293.6 292.0,293.7 292.4,293.7 292.8,293.8 293.2,293.8 293.6,293.9 294.0,293.9 294.4,293.9 294.8,294.0 295.2,294.0 295.6,294.0 296.0,294.0 296.4,294.0 296.5,294.0 296.8,294.0 297.2,294.0 297.6,294.0 298.0,294.0 298.4,294.0 298.8,294.0 299.2,294.0 299.6,294.0 300.0,294.0 300.4,294.0 300.8,294.0 301.2,294.0 301.6,294.0 302.0,294.0 302.4,294.0 302.8,294.0 303.2,294.0 303.6,294.0 304.0,294.0 304.4,294.0 304.8,294.0 305.2,294.0 305.6,294.0 306.0,294.0 306.4,294.0 306.8,294.0 307.2,294.0 307.6,294.0 308.0,294.0 308.4,294.0 308.8,294.0 309.2,294.0 309.6,294.0 310.0,294.0 310.4,294.0 310.8,294.0 311.2,294.0 311.6,294.0 312.0,294.0 312.4,294.0 312.8,294.0 313.2,294.0 313.6,294.0 314.0,294.0 314.4,294.0 314.8,294.0 315.2,294.0 315.6,294.0 316.0,294.0 316.4,294.0 316.8,294.0 317.2,294.0 317.6,294.0 318.0,294.0 318.4,294.0 318.8,294.0 319.2,294.0 319.6,294.0 320.0,294.0 320.4,294.0 320.8,294.0 321.2,294.0 321.6,294.0 322.0,294.0 322.4,294.0 322.8,294.0 323.2,294.0 323.6,294.0 324.0,294.0 324.4,294.0 324.8,294.0 325.2,294.0 325.6,294.0 326.0,294.0 326.4,294.0 326.8,294.0 327.2,294.0 327.6,294.0 328.0,294.0 328.4,294.0 328.8,294.0 329.2,294.0 329.6,294.0 330.0,294.0 330.4,294.0 330.8,294.0 331.2,294.0 331.6,294.0 332.0,294.0 332.4,294.0 332.8,294.0 333.2,294.0 333.6,294.0 334.0,294.0 334.4,294.0 334.8,294.0 335.2,294.0 335.6,294.0 336.0,294.0 336.4,294.0 336.8,294.0 337.2,294.0 337.6,294.0 338.0,294.0 338.4,294.0 338.8,294.0 339.2,294.0 339.6,294.0 340.0,294.0 340.0,294.0 340.4,294.0 340.8,294.0 341.2,294.0 341.6,294.0 342.0,294.0 342.4,294.0 342.8,294.0 343.2,294.0 343.6,294.0 344.0,294.0 344.4,294.0 344.8,294.0 345.2,294.0 345.6,294.0 346.0,294.0 346.4,294.0 346.8,294.0 347.2,294.0 347.6,294.0 348.0,294.0 348.4,294.0 348.8,294.0 349.2,294.0 349.6,294.0 350.0,294.0 350.4,294.0 350.8,294.0 351.2,294.0 351.6,294.0 352.0,294.0 352.4,294.0 352.8,294.0 353.2,294.0 353.6,294.0 354.0,294.0 354.4,294.0 354.8,294.0 355.2,294.0 355.6,294.0 356.0,294.0 356.4,294.0 356.8,294.0 357.2,294.0 357.6,294.0 358.0,294.0 358.4,294.0 358.8,294.0 359.2,294.0 359.6,294.0 360.0,294.0 360.4,294.0 360.8,294.0 361.2,294.0 361.6,294.0 362.0,294.0 362.4,294.0 362.8,294.0 363.2,294.0 363.6,294.0 364.0,294.0 364.4,294.0 364.8,294.0 365.2,294.0 365.6,294.0 365.8,294.0 366.0,294.0 366.4,293.9 366.8,293.9 367.2,293.7 367.6,293.5 368.0,293.3 368.4,293.1 368.8,292.8 369.2,292.5 369.6,292.2 369.6,292.2 370.0,291.8 370.4,291.1 370.8,290.2 371.2,289.3 371.3,289.0 371.6,287.8 372.0,285.5 372.4,283.1 372.8,281.4 373.0,281.2 373.2,281.6 373.6,283.9 374.0,286.9 374.2,288.0 374.4,288.9 374.8,290.8 375.2,292.1 375.3,292.2 375.6,292.5 376.0,292.8 376.4,293.0 376.8,293.2 377.2,293.3 377.6,293.4 378.0,293.5 378.0,293.5 378.4,293.5 378.8,293.6 379.2,293.6 379.6,293.7 380.0,293.7 380.4,293.7 380.8,293.7 381.2,293.8 381.6,293.8 382.0,293.8 382.4,293.8 382.8,293.8 383.2,293.8 383.3,293.8 383.6,293.8 384.0,293.8 384.4,293.8 384.8,293.8 385.2,293.8 385.6,293.8 386.0,293.8 386.4,293.8 386.8,293.8 387.2,293.7 387.6,293.7 388.0,293.7 388.4,293.7 388.8,293.7 389.2,293.7 389.6,293.7 390.0,293.6 390.4,293.6 390.8,293.6 391.2,293.6 391.6,293.6 392.0,293.5 392.4,293.5 392.8,293.5 393.2,293.5 393.6,293.4 394.0,293.4 394.4,293.4 394.8,293.4 395.2,293.3 395.6,293.3 396.0,293.3 396.4,293.2 396.8,293.2 397.2,293.2 397.6,293.1 398.0,293.1 398.4,293.1 398.8,293.0 399.0,293.0 399.2,293.0 399.6,292.9 400.0,292.9 400.4,292.8 400.8,292.7 401.2,292.6 401.6,292.5 402.0,292.4 402.4,292.3 402.8,292.2 402.8,292.2 403.2,292.1 403.6,291.9 404.0,291.7 404.4,291.4 404.8,291.2 405.0,291.0 405.2,290.8 405.6,290.4 406.0,289.8 406.4,289.1 406.5,288.9 406.8,288.2 407.2,287.1 407.6,285.7 407.8,285.0 408.0,284.3 408.4,282.8 408.8,280.8 408.9,280.2 409.2,277.8 409.6,273.3 409.7,272.0 410.0,266.8 410.4,258.5 410.4,258.5 410.8,250.4 411.2,243.0 411.2,243.0 411.6,236.8 412.0,232.0 412.0,232.0 412.4,228.4 412.8,225.8 413.0,225.4 413.2,225.8 413.6,228.5 414.0,232.0 414.0,232.0 414.4,235.8 414.8,240.4 415.0,243.0 415.2,246.0 415.6,253.1 415.9,258.5 416.0,260.2 416.4,267.3 416.7,272.0 416.8,273.4 417.2,278.4 417.4,280.2 417.6,281.5 418.0,283.5 418.4,285.1 418.5,285.5 418.8,286.6 419.2,287.9 419.6,288.9 419.6,288.9 420.0,289.6 420.4,290.1 420.8,290.6 421.2,290.9 421.3,291.0 421.6,291.2 422.0,291.5 422.4,291.7 422.8,291.9 423.2,292.1 423.5,292.2 423.6,292.2 424.0,292.3 424.4,292.4 424.8,292.5 425.2,292.6 425.6,292.7 426.0,292.8 426.4,292.8 426.8,292.9 427.2,292.9 427.6,293.0 428.0,293.0 428.0,293.0 428.4,293.0 428.8,293.0 429.2,293.1 429.6,293.1 430.0,293.1 430.4,293.1 430.8,293.1 431.2,293.1 431.6,293.2 432.0,293.2 432.3,293.2 432.4,293.2 432.8,293.3 433.2,293.5 433.6,293.7 434.0,293.9 434.4,294.0 434.8,294.2 435.2,294.3 435.4,294.3 435.6,294.3 436.0,294.3 436.4,294.3 436.8,294.3 437.2,294.3 437.6,294.3 438.0,294.3 438.4,294.3 438.8,294.3 439.2,294.3 439.6,294.2 440.0,294.2 440.4,294.2 440.8,294.2 441.2,294.2 441.6,294.2 442.0,294.2 442.4,294.1 442.8,294.1 443.2,294.1 443.6,294.1 444.0,294.1 444.4,294.0 444.8,294.0 445.0,294.0 445.2,294.0 445.6,293.9 446.0,293.9 446.4,293.8 446.8,293.7 447.2,293.6 447.6,293.5 448.0,293.3 448.4,293.2 448.8,293.1 449.0,293.0 449.2,292.9 449.6,292.7 450.0,292.5 450.4,292.3 450.8,292.1 451.2,291.9 451.6,291.7 452.0,291.7 452.0,291.7 452.4,291.7 452.8,291.9 453.2,292.1 453.6,292.3 454.0,292.5 454.4,292.7 454.8,292.9 455.0,293.0 455.2,293.1 455.6,293.2 456.0,293.3 456.4,293.4 456.8,293.5 457.1,293.5 457.2,293.5 457.6,293.5 458.0,293.4 458.4,293.3 458.8,293.2 459.2,293.1 459.6,292.9 460.0,292.8 460.0,292.8 460.4,292.6 460.8,292.4 461.2,292.2 461.6,291.9 462.0,291.5 462.0,291.5 462.4,291.0 462.8,290.4 463.2,289.6 463.6,289.0 463.6,289.0 464.0,288.3 464.4,287.6 464.8,287.2 465.0,287.1 465.2,287.2 465.6,287.7 466.0,288.5 466.4,289.3 466.5,289.5 466.8,290.0 467.2,290.8 467.6,291.6 468.0,292.4 468.4,292.9 468.6,293.0 468.8,293.1 469.2,293.3 469.6,293.4 470.0,293.6 470.4,293.7 470.8,293.9 471.2,294.0 471.6,294.1 472.0,294.1 472.4,294.2 472.8,294.3 473.2,294.3 473.6,294.3 473.7,294.3 474.0,294.3 474.4,294.3 474.8,294.3 475.2,294.3 475.6,294.3 476.0,294.3 476.4,294.3 476.8,294.3 477.2,294.3 477.6,294.3 478.0,294.3 478.4,294.3 478.8,294.3 479.2,294.3 479.6,294.3 480.0,294.3 480.4,294.3 480.8,294.3 481.2,294.3 481.6,294.3 482.0,294.3 482.4,294.2 482.8,294.2 483.2,294.2 483.6,294.2 484.0,294.2 484.4,294.2 484.8,294.2 485.2,294.2 485.6,294.2 486.0,294.2 486.4,294.2 486.8,294.2 487.2,294.1 487.6,294.1 488.0,294.1 488.4,294.1 488.8,294.1 489.2,294.1 489.6,294.1 490.0,294.1 490.4,294.0 490.8,294.0 491.2,294.0 491.6,294.0 491.6,294.0 492.0,294.0 492.4,293.9 492.8,293.7 493.2,293.6 493.6,293.4 494.0,293.3 494.0,293.3 494.4,293.2 494.8,293.0 495.2,292.9 495.6,292.7 496.0,292.6 496.4,292.5 496.8,292.5 496.8,292.5 497.2,292.5 497.6,292.6 498.0,292.7 498.4,292.8 498.8,293.0 499.2,293.1 499.6,293.2 500.0,293.3 500.0,293.3 500.4,293.4 500.8,293.5 501.2,293.6 501.6,293.6 502.0,293.7 502.4,293.8 502.8,293.9 503.2,293.9 503.6,294.0 504.0,294.0 504.4,294.0 504.4,294.0 504.8,294.0 505.2,294.0 505.6,294.0 506.0,294.0 506.4,294.0 506.8,294.0 507.2,294.0 507.6,294.0 508.0,294.0 508.4,294.0 508.8,294.0 509.2,294.0 509.6,294.0 510.0,294.0 510.4,294.0 510.8,294.0 511.2,293.9 511.6,293.9 512.0,293.9 512.4,293.9 512.8,293.9 513.2,293.9 513.6,293.9 514.0,293.9 514.4,293.9 514.8,293.9 515.2,293.9 515.6,293.8 516.0,293.8 516.4,293.8 516.8,293.8 517.2,293.8 517.6,293.8 518.0,293.8 518.4,293.8 518.8,293.7 519.2,293.7 519.6,293.7 520.0,293.7 520.0,293.7 520.4,293.7 520.8,293.6 521.2,293.5 521.6,293.5 522.0,293.4 522.4,293.3 522.8,293.1 523.2,293.0 523.6,293.0 524.0,292.9 524.4,292.8 524.8,292.8 525.0,292.8 525.2,292.8 525.6,292.8 526.0,292.8 526.4,292.9 526.8,292.9 527.2,292.9 527.6,293.0 528.0,293.0 528.4,293.0 528.8,293.1 529.2,293.1 529.6,293.2 530.0,293.2 530.0,293.2 530.4,293.2 530.8,293.3 531.2,293.3 531.6,293.4 532.0,293.4 532.4,293.5 532.8,293.5 533.2,293.6 533.6,293.7 534.0,293.7 534.4,293.8 534.8,293.8 535.2,293.9 535.6,293.9 536.0,293.9 536.4,294.0 536.8,294.0 537.2,294.0 537.6,294.0 537.7,294.0 538.0,294.0 538.4,294.0 538.8,294.0 539.2,294.0 539.6,294.0 540.0,294.0 540.4,294.0 540.8,294.0 541.2,294.0 541.6,294.0 542.0,294.0 542.4,294.0 542.8,294.0 543.2,294.0 543.6,294.0 544.0,294.0 544.4,294.0 544.8,294.0 545.2,294.0 545.4,294.0"/>
<path class="c" d="M276.0,313.2 276.4,313.3 276.8,313.3 277.2,313.4 277.6,313.4 278.0,313.5 278.4,313.5 278.8,313.6 279.2,313.6 279.6,313.7 280.0,313.7 280.4,313.8 280.8,313.8 281.2,313.9 281.6,313.9 282.0,314.0 282.4,314.0 282.8,314.1 283.2,314.1 283.6,314.1 284.0,314.2 284.4,314.2 284.8,314.3 285.2,314.3 285.6,314.4 286.0,314.4 286.4,314.5 286.8,314.5 287.2,314.5 287.6,314.6 288.0,314.6 288.4,314.7 288.8,314.7 288.8,314.7 289.2,314.7 289.6,314.8 290.0,314.8 290.4,314.9 290.8,314.9 291.2,314.9 291.6,315.0 292.0,315.0 292.4,315.0 292.8,315.1 293.2,315.1 293.6,315.2 294.0,315.2 294.4,315.2 294.8,315.3 295.2,315.3 295.6,315.3 296.0,315.4 296.4,315.4 296.8,315.4 297.2,315.4 297.6,315.5 298.0,315.5 298.0,315.5 298.4,315.5 298.8,315.6 299.2,315.6 299.6,315.6 300.0,315.6 300.4,315.7 300.8,315.7 301.2,315.7 301.6,315.8 302.0,315.8 302.4,315.8 302.8,315.9 303.2,315.9 303.6,315.9 304.0,315.9 304.4,315.9 304.8,316.0 305.2,316.0 305.6,316.0 306.0,316.0 306.4,316.0 306.7,316.0 306.8,316.0 307.2,316.0 307.6,316.0 308.0,316.0 308.4,316.0 308.8,316.0 309.2,316.0 309.6,315.9 310.0,315.9 310.4,315.9 310.8,315.9 311.2,315.9 311.6,315.9 312.0,315.8 312.4,315.8 312.8,315.8 313.0,315.8 313.2,315.8 313.6,315.8 314.0,315.7 314.4,315.7 314.8,315.7 315.2,315.7 315.6,315.6 316.0,315.6 316.4,315.5 316.8,315.5 317.2,315.5 317.6,315.4 318.0,315.4 318.4,315.3 318.8,315.3 319.2,315.2 319.5,315.2 319.6,315.2 320.0,315.1 320.4,315.1 320.8,315.0 321.2,315.0 321.6,314.9 322.0,314.9 322.4,314.8 322.8,314.7 323.2,314.6 323.6,314.6 324.0,314.5 324.4,314.4 324.8,314.3 325.0,314.3 325.2,314.3 325.6,314.2 326.0,314.1 326.4,314.0 326.8,313.9 327.2,313.7 327.6,313.6 328.0,313.5 328.4,313.4 328.8,313.3 329.2,313.1 329.6,313.0 330.0,312.9 330.0,312.9 330.4,312.8 330.8,312.7 331.2,312.5 331.6,312.4 332.0,312.3 332.4,312.2 332.8,312.0 333.2,311.9 333.5,311.8 333.6,311.8 334.0,311.6 334.4,311.5 334.8,311.4 335.2,311.2 335.6,311.1 336.0,310.9 336.4,310.7 336.5,310.6 336.8,310.4 337.2,310.0 337.6,309.5 338.0,309.0 338.4,308.5 338.5,308.4 338.8,308.0 339.2,307.5 339.6,307.0 340.0,306.5 340.2,306.2 340.4,305.9 340.8,305.3 341.2,304.6 341.6,304.0 341.8,303.7 342.0,303.4 342.4,302.8 342.8,302.4 343.0,302.3 343.2,302.4 343.6,302.8 344.0,303.4 344.2,303.7 344.4,304.0 344.8,304.8 345.2,305.7 345.5,306.3 345.6,306.5 346.0,307.2 346.4,308.0 346.8,308.7 347.2,309.3 347.2,309.3 347.6,309.9 348.0,310.4 348.4,310.9 348.8,311.3 349.2,311.7 349.4,311.9 349.6,312.1 350.0,312.4 350.4,312.8 350.8,313.1 351.2,313.4 351.6,313.7 352.0,313.9 352.0,313.9 352.4,314.1 352.8,314.3 353.2,314.4 353.6,314.6 354.0,314.7 354.4,314.9 354.8,315.0 355.2,315.1 355.6,315.2 355.6,315.2 356.0,315.3 356.4,315.4 356.8,315.5 357.2,315.6 357.6,315.7 358.0,315.7 358.4,315.8 358.8,315.9 359.2,315.9 359.6,316.0 360.0,316.0 360.0,316.0 360.4,316.0 360.8,316.1 361.2,316.1 361.6,316.1 362.0,316.1 362.4,316.2 362.8,316.2 363.2,316.2 363.6,316.2 364.0,316.2 364.4,316.3 364.8,316.3 365.2,316.3 365.6,316.3 365.8,316.3 366.0,316.3 366.4,316.3 366.8,316.3 367.2,316.3 367.6,316.3 368.0,316.4 368.4,316.4 368.8,316.4 369.2,316.4 369.6,316.4 370.0,316.4 370.4,316.4 370.8,316.4 371.2,316.4 371.6,316.4 372.0,316.5 372.4,316.5 372.8,316.5 373.2,316.5 373.6,316.5 374.0,316.5 374.4,316.5 374.8,316.5 375.2,316.5 375.6,316.5 376.0,316.5 376.4,316.5 376.8,316.5 377.0,316.5"/>
<path class="c" d="M236.0,340.8 236.4,340.8 236.8,340.8 237.2,340.8 237.6,340.8 238.0,340.8 238.4,340.8 238.8,340.8 239.2,340.8 239.6,340.8 240.0,340.8 240.4,340.8 240.8,340.8 241.2,340.8 241.6,340.8 242.0,340.8 242.4,340.8 242.8,340.8 243.2,340.8 243.6,340.8 244.0,340.7 244.4,340.7 244.8,340.7 245.2,340.7 245.6,340.7 246.0,340.7 246.4,340.7 246.8,340.7 247.2,340.7 247.6,340.7 248.0,340.7 248.4,340.6 248.8,340.6 249.2,340.6 249.6,340.6 250.0,340.6 250.4,340.6 250.8,340.6 251.2,340.5 251.6,340.5 252.0,340.5 252.4,340.5 252.8,340.5 253.2,340.4 253.6,340.4 254.0,340.4 254.4,340.4 254.8,340.4 255.2,340.3 255.6,340.3 255.6,340.3 256.0,340.2 256.4,340.0 256.8,339.7 257.2,339.4 257.3,339.3 257.6,339.0 258.0,338.4 258.4,337.5 258.6,337.0 258.8,336.2 259.2,333.4 259.6,330.0 259.6,330.0 260.0,325.2 260.4,320.1 260.7,318.5 260.8,318.8 261.2,323.7 261.5,328.0 261.6,329.2 262.0,334.1 262.2,335.7 262.4,336.6 262.8,338.0 263.2,338.8 263.2,338.8 263.6,339.4 264.0,339.9 264.4,340.2 264.5,340.2 264.8,340.2 265.2,340.1 265.6,340.1 266.0,339.9 266.4,339.8 266.8,339.6 267.2,339.5 267.6,339.3 268.0,339.1 268.4,338.9 268.7,338.8 268.8,338.8 269.2,338.6 269.6,338.4 270.0,338.1 270.4,337.9 270.8,337.6 271.2,337.4 271.5,337.2 271.6,337.1 272.0,336.9 272.4,336.6 272.8,336.3 273.2,336.0 273.5,335.8 273.6,335.7 274.0,335.3 274.4,334.9 274.8,334.5 275.1,334.1 275.2,334.0 275.6,333.5 276.0,332.9 276.4,332.3 276.6,332.0 276.8,331.7 277.2,330.9 277.6,330.2 277.8,329.8 278.0,329.4 278.4,328.7 278.8,328.2 278.8,328.2 279.2,327.8 279.6,327.6 279.6,327.6 280.0,327.8 280.4,328.2 280.5,328.3 280.8,328.7 281.2,329.3 281.6,330.0 281.6,330.0 282.0,330.8 282.4,331.6 282.8,332.4 282.9,332.6 283.2,333.2 283.6,334.0 284.0,334.7 284.2,335.0 284.4,335.3 284.8,335.9 285.2,336.5 285.6,337.0 286.0,337.4 286.2,337.6 286.4,337.8 286.8,338.1 287.2,338.4 287.6,338.6 288.0,338.9 288.4,339.1 288.7,339.2 288.8,339.2 289.2,339.4 289.6,339.6 290.0,339.7 290.4,339.8 290.8,339.9 291.2,340.0 291.5,340.0 291.6,340.0 292.0,340.0 292.4,340.0 292.7,340.0 292.8,340.0 293.2,339.5 293.6,338.9 293.9,338.7 294.0,338.7 294.4,339.2 294.8,339.8 295.0,340.0 295.2,340.1 295.6,340.3 296.0,340.5 296.4,340.6 296.5,340.6 296.8,340.6 297.2,340.7 297.6,340.7 298.0,340.7 298.4,340.8 298.8,340.8 299.2,340.8 299.6,340.9 300.0,340.9 300.4,340.9 300.8,341.0 301.2,341.0 301.6,341.0 302.0,341.0 302.4,341.1 302.8,341.1 303.2,341.1 303.6,341.1 304.0,341.1 304.4,341.2 304.8,341.2 305.2,341.2 305.6,341.2 306.0,341.2 306.4,341.2 306.8,341.2 307.2,341.2 307.6,341.3 308.0,341.3 308.4,341.3 308.8,341.3 309.2,341.3 309.6,341.3 310.0,341.3 310.4,341.3 310.8,341.3 311.2,341.3 311.6,341.3 311.8,341.3 312.0,341.3 312.4,341.2 312.8,341.1 313.2,341.0 313.6,340.8 314.0,340.6 314.2,340.5 314.4,340.3 314.8,339.6 315.2,338.7 315.3,338.5 315.6,337.6 316.0,336.4 316.2,336.2 316.4,336.5 316.8,338.1 317.0,338.8 317.2,339.5 317.6,340.7 317.7,340.8 318.0,340.8 318.4,340.8 318.8,340.8 319.2,340.8 319.6,340.8 320.0,340.8 320.4,340.8 320.8,340.8 321.2,340.8 321.6,340.8 322.0,340.8 322.4,340.8 322.8,340.8 323.0,340.8 323.2,340.7 323.6,340.4 324.0,339.8 324.2,339.5 324.4,339.1 324.8,338.1 325.1,337.7 325.2,337.7 325.6,337.7 326.0,337.7 326.4,337.7 326.7,337.7 326.8,337.7 327.2,338.5 327.6,339.5 327.6,339.5 328.0,340.2 328.4,340.8 328.5,340.8 328.8,340.8 329.2,340.8 329.6,340.8 330.0,340.7 330.4,340.7 330.8,340.6 331.0,340.6 331.2,340.6 331.6,340.5 332.0,340.4 332.4,340.3 332.8,340.2 333.2,340.0 333.6,339.9 334.0,339.7 334.3,339.6 334.4,339.6 334.8,339.4 335.2,339.2 335.6,339.0 336.0,338.8 336.4,338.6 336.8,338.3 337.2,337.9 337.6,337.5 337.6,337.5 338.0,336.9 338.4,335.9 338.8,334.7 339.0,334.0 339.2,333.3 339.6,331.4 340.0,328.8 340.2,327.2 340.4,324.9 340.8,318.0 340.8,318.0 341.2,308.1 341.3,305.5 341.6,297.5 341.9,290.0 342.0,287.8 342.4,279.6 342.5,278.0 342.8,273.3 343.0,271.8 343.2,273.3 343.5,278.0 343.6,279.7 344.0,287.9 344.1,290.0 344.4,296.4 344.8,305.5 344.8,305.5 345.2,315.9 345.3,318.0 345.6,323.4 345.9,327.2 346.0,328.0 346.4,330.8 346.8,332.8 347.0,333.5 347.2,334.1 347.6,335.1 348.0,336.0 348.4,336.6 348.5,336.8 348.8,337.3 349.2,337.9 349.6,338.4 350.0,338.7 350.3,338.8 350.4,338.8 350.8,338.6 351.2,338.4 351.6,338.2 351.7,338.2 352.0,338.2 352.4,338.3 352.6,338.3 352.8,338.4 353.2,338.7 353.6,339.1 354.0,339.5 354.0,339.5 354.4,339.8 354.8,340.0 355.2,340.2 355.6,340.3 355.6,340.3 356.0,340.3 356.4,340.4 356.8,340.4 357.2,340.4 357.6,340.4 358.0,340.5 358.4,340.5 358.8,340.5 359.2,340.5 359.6,340.6 360.0,340.6 360.4,340.6 360.8,340.6 361.2,340.6 361.6,340.6 362.0,340.7 362.4,340.7 362.8,340.7 363.2,340.7 363.6,340.7 364.0,340.7 364.4,340.7 364.8,340.7 365.2,340.7 365.6,340.7 366.0,340.7 366.4,340.8 366.8,340.8 367.2,340.8 367.6,340.8 368.0,340.8 368.4,340.8 368.8,340.8 369.2,340.8 369.6,340.8 370.0,340.8 370.0,340.8 370.4,340.8 370.8,340.8 371.2,340.8 371.6,340.8 372.0,340.8 372.4,340.8 372.8,340.8 373.2,340.8 373.6,340.8 374.0,340.9 374.4,340.9 374.8,340.9 375.2,340.9 375.6,340.9 376.0,340.9 376.4,340.9 376.8,340.9 377.2,340.9 377.6,340.9 378.0,340.9 378.4,340.9 378.8,340.9 379.2,340.9 379.6,340.9 380.0,340.9 380.4,340.9 380.8,340.9 381.2,340.9 381.6,340.9 382.0,340.9 382.4,340.9 382.8,340.9 383.2,340.9 383.6,340.9 384.0,340.9 384.4,341.0 384.8,341.0 385.2,341.0 385.6,341.0 386.0,341.0 386.4,341.0 386.8,341.0 387.2,341.0 387.6,341.0 388.0,341.0 388.4,341.0 388.8,341.0 389.2,341.0 389.6,341.0 390.0,341.0 390.4,341.0 390.8,341.0 391.2,341.0 391.6,341.0 392.0,341.0 392.4,341.0 392.8,341.0 393.2,341.0 393.6,341.0 394.0,341.0 394.4,341.0 394.8,341.0 395.2,341.0 395.6,341.0 396.0,341.0 396.4,341.0 396.5,341.0 396.8,341.0 397.2,340.8 397.6,340.6 397.8,340.5 398.0,340.4 398.4,339.9 398.8,339.6 399.0,339.5 399.2,339.6 399.6,339.9 400.0,340.4 400.2,340.5 400.4,340.6 400.8,340.8 401.2,341.0 401.5,341.0 401.6,341.0 402.0,341.0 402.4,341.0 402.8,341.1 403.2,341.1 403.6,341.1 404.0,341.1 404.4,341.1 404.8,341.1 405.2,341.1 405.6,341.1 406.0,341.2 406.4,341.2 406.8,341.2 407.2,341.2 407.6,341.2 408.0,341.2 408.4,341.2 408.8,341.2 409.2,341.2 409.6,341.2 410.0,341.2 410.4,341.2 410.8,341.2 411.2,341.3 411.6,341.3 412.0,341.3 412.4,341.3 412.8,341.3 413.2,341.3 413.6,341.3 414.0,341.3 414.4,341.3 414.8,341.3 415.2,341.3 415.6,341.3 416.0,341.3 416.4,341.3 416.8,341.3 417.2,341.3 417.6,341.3 418.0,341.3 418.4,341.3 418.8,341.3 419.2,341.3 419.6,341.3 420.0,341.3 420.0,341.3 420.4,341.3 420.8,341.2 421.2,341.2 421.6,341.1 422.0,341.0 422.4,340.8 422.5,340.8 422.8,340.6 423.2,340.3 423.6,340.0 423.8,340.0 424.0,340.0 424.4,340.3 424.8,340.6 425.2,340.9 425.5,341.0 425.6,341.0 426.0,341.0 426.4,341.0 426.8,341.1 427.2,341.1 427.6,341.1 428.0,341.1 428.4,341.1 428.8,341.1 429.2,341.2 429.6,341.2 430.0,341.2 430.4,341.2 430.8,341.2 431.2,341.2 431.6,341.2 432.0,341.2 432.4,341.2 432.8,341.2 433.2,341.2 433.6,341.2 434.0,341.2 434.4,341.3 434.8,341.3 435.2,341.3 435.6,341.3 436.0,341.3 436.4,341.3 436.8,341.3 437.2,341.3 437.6,341.3 438.0,341.3 438.4,341.3 438.8,341.3 439.2,341.3 439.6,341.3 440.0,341.3 440.0,341.3 440.4,341.3 440.8,341.3 441.2,341.3 441.6,341.3 442.0,341.3 442.4,341.3 442.8,341.3 443.2,341.3 443.6,341.3 444.0,341.3 444.4,341.3 444.8,341.3 445.2,341.3 445.6,341.3 446.0,341.3 446.4,341.4 446.8,341.4 447.2,341.4 447.6,341.4 448.0,341.4 448.4,341.4 448.8,341.4 449.2,341.4 449.6,341.4 450.0,341.4 450.4,341.4 450.8,341.4 451.2,341.4 451.6,341.4 452.0,341.4 452.4,341.4 452.8,341.4 453.2,341.4 453.6,341.4 454.0,341.4 454.4,341.4 454.8,341.4 455.2,341.4 455.6,341.4 456.0,341.4 456.4,341.4 456.8,341.4 457.2,341.4 457.6,341.4 458.0,341.4 458.4,341.4 458.8,341.4 459.2,341.4 459.6,341.4 460.0,341.4 460.4,341.5 460.8,341.5 461.2,341.5 461.6,341.5 462.0,341.5 462.4,341.5 462.8,341.5 463.2,341.5 463.6,341.5 464.0,341.5 464.4,341.5 464.8,341.5 465.2,341.5 465.6,341.5 466.0,341.5 466.4,341.5 466.8,341.5 467.2,341.5 467.6,341.5 468.0,341.5 468.4,341.5 468.8,341.5 469.2,341.5 469.6,341.5 470.0,341.5 470.4,341.5 470.8,341.5 471.2,341.5 471.6,341.5 472.0,341.5 472.4,341.5 472.8,341.5 473.2,341.5 473.6,341.5 474.0,341.5 474.4,341.5 474.8,341.5 475.2,341.5 475.6,341.5 476.0,341.5 476.4,341.5 476.8,341.5 477.2,341.5 477.6,341.5 478.0,341.5 478.4,341.5 478.8,341.5 479.2,341.5 479.6,341.5 480.0,341.5 480.4,341.6 480.8,341.6 481.2,341.6 481.6,341.6 482.0,341.6 482.4,341.6 482.8,341.6 483.2,341.6 483.6,341.6 484.0,341.6 484.4,341.6 484.8,341.6 485.2,341.6 485.6,341.6 486.0,341.6 486.4,341.6 486.8,341.6 487.2,341.6 487.6,341.6 488.0,341.6 488.4,341.6 488.8,341.6 489.2,341.6 489.6,341.6 490.0,341.6 490.4,341.6 490.8,341.6 491.2,341.6 491.6,341.6 492.0,341.6 492.4,341.6 492.8,341.6 493.2,341.6 493.6,341.6 494.0,341.6 494.4,341.6 494.8,341.6 495.2,341.6 495.6,341.6 496.0,341.6 496.4,341.6 496.8,341.6 497.2,341.6 497.6,341.6 498.0,341.6 498.4,341.6 498.8,341.6 499.2,341.6 499.6,341.6 500.0,341.6 500.4,341.6 500.8,341.6 501.2,341.6 501.6,341.6 502.0,341.6 502.4,341.6 502.8,341.6 503.2,341.6 503.6,341.6 504.0,341.6 504.4,341.6 504.8,341.6 505.2,341.6 505.6,341.6 506.0,341.6 506.4,341.6 506.8,341.6 507.0,341.6 507.2,341.6 507.6,341.6 508.0,341.5 508.4,341.4 508.8,341.3 509.2,341.1 509.5,341.0 509.6,341.0 510.0,340.7 510.4,340.3 510.8,339.9 511.2,339.5 511.2,339.5 511.6,339.1 512.0,338.6 512.4,338.3 512.6,338.3 512.8,338.4 513.2,338.8 513.6,339.3 514.0,339.8 514.0,339.8 514.4,340.2 514.8,340.6 515.2,340.9 515.6,341.2 516.0,341.3 516.0,341.3 516.4,341.3 516.8,341.3 517.2,341.4 517.6,341.4 518.0,341.4 518.4,341.4 518.8,341.4 519.2,341.4 519.6,341.5 520.0,341.5 520.4,341.5 520.8,341.5 521.2,341.5 521.6,341.5 522.0,341.5 522.4,341.5 522.8,341.5 523.2,341.5 523.6,341.6 524.0,341.6 524.4,341.6 524.8,341.6 525.2,341.6 525.6,341.6 526.0,341.6 526.4,341.6 526.8,341.6 527.2,341.6 527.6,341.6 528.0,341.6 528.4,341.6 528.8,341.6 529.2,341.6 529.6,341.6 530.0,341.6 530.0,341.6 530.4,341.6 530.8,341.6 531.2,341.6 531.6,341.6 532.0,341.6 532.4,341.6 532.8,341.6 533.2,341.6 533.6,341.6 534.0,341.6 534.4,341.6 534.8,341.6 535.2,341.6 535.6,341.6 536.0,341.6 536.4,341.6 536.8,341.6 537.2,341.6 537.6,341.6 538.0,341.6 538.4,341.6 538.8,341.6 539.2,341.6 539.6,341.6 540.0,341.6 540.4,341.6 540.8,341.6 541.2,341.6 541.6,341.6 542.0,341.6 542.4,341.6 542.8,341.6 543.2,341.6 543.6,341.6 544.0,341.6 544.4,341.6 544.8,341.6 545.2,341.6 545.4,341.6"/>
<text transform="translate(44.4,367.6) scale(0.94,1)" font-size="13.3px" text-anchor="middle" stroke="#111" stroke-width="0.32">200</text>
<text transform="translate(94.7,367.6) scale(0.94,1)" font-size="13.3px" text-anchor="middle" stroke="#111" stroke-width="0.32">400</text>
<text transform="translate(140.7,367.6) scale(0.94,1)" font-size="13.3px" text-anchor="middle" stroke="#111" stroke-width="0.32">600</text>
<text transform="translate(187.4,367.6) scale(0.94,1)" font-size="13.3px" text-anchor="middle" stroke="#111" stroke-width="0.32">800</text>
<text transform="translate(277.9,367.6) scale(0.94,1)" font-size="13.3px" text-anchor="middle" stroke="#111" stroke-width="0.32">200</text>
<text transform="translate(328.3,367.6) scale(0.94,1)" font-size="13.3px" text-anchor="middle" stroke="#111" stroke-width="0.32">400</text>
<text transform="translate(374.3,367.6) scale(0.94,1)" font-size="13.3px" text-anchor="middle" stroke="#111" stroke-width="0.32">600</text>
<text transform="translate(421.2,367.6) scale(0.94,1)" font-size="13.3px" text-anchor="middle" stroke="#111" stroke-width="0.32">800</text>
<text transform="translate(476.3,367.6) scale(0.94,1)" font-size="13.3px" text-anchor="middle" stroke="#111" stroke-width="0.32">1000</text>
<text transform="translate(522.4,367.6) scale(0.94,1)" font-size="13.3px" text-anchor="middle" stroke="#111" stroke-width="0.32">1200</text>
<text transform="translate(210.0,73.9) scale(0.99,1)" font-size="10.4px" text-anchor="end" stroke="#111" stroke-width="0.32">o-ZrO<tspan dy="2.3" font-size="6.8px">2</tspan></text>
<text transform="translate(210.0,182.2) scale(0.99,1)" font-size="10.4px" text-anchor="end" stroke="#111" stroke-width="0.32">t-ZrO<tspan dy="2.3" font-size="6.8px">2</tspan></text>
<text transform="translate(210.0,262.1) scale(0.99,1)" font-size="10.4px" text-anchor="end" stroke="#111" stroke-width="0.32">c-ZrO<tspan dy="2.3" font-size="6.8px">2</tspan></text>
<text transform="translate(210.0,329.2) scale(0.99,1)" font-size="10.4px" text-anchor="end" stroke="#111" stroke-width="0.32">m-ZrO<tspan dy="2.3" font-size="6.8px">2</tspan></text>
<text transform="translate(201.2,28.3) scale(0.93,1)" font-size="13.1px" text-anchor="middle" stroke="#111" stroke-width="0.32">(a)</text>
<text transform="translate(531.6,29.4) scale(0.93,1)" font-size="13.1px" text-anchor="middle" stroke="#111" stroke-width="0.32">(b)</text>
<text transform="translate(539.4,58.3) scale(0.96,1)" font-size="10.4px" text-anchor="end" stroke="#111" stroke-width="0.32">SiO<tspan dy="2.3" font-size="6.8px">2</tspan><tspan dy="-2.3"> glass</tspan></text>
<text transform="translate(539.4,105.1) scale(1.069,1)" font-size="10.4px" text-anchor="end" stroke="#111" stroke-width="0.32">Cristobalite</text>
<text transform="translate(539.4,179.0) scale(1.063,1)" font-size="10.4px" text-anchor="end" stroke="#111" stroke-width="0.32">Tridymite</text>
<text transform="translate(539.4,233.0) scale(1.024,1)" font-size="10.4px" text-anchor="end" stroke="#111" stroke-width="0.32">Coesite</text>
<text transform="translate(539.5,279.5) scale(1.042,1)" font-size="10.4px" text-anchor="end" stroke="#111" stroke-width="0.32">Stishovite</text>
<text transform="translate(540.3,333.2) scale(1.093,1)" font-size="10.4px" text-anchor="end" stroke="#111" stroke-width="0.32">α-Quartz</text>
<text transform="translate(383,319.6) scale(1.058,1)" font-size="10.4px" text-anchor="start" stroke="#111" stroke-width="0.32">β-Quartz</text>
<text transform="translate(75.0,385.8) scale(0.967,1)" font-size="13.3px" text-anchor="start" stroke="#111" stroke-width="0.32">Raman shift, cm<tspan dy="-4.6" font-size="8.4px">−1</tspan></text>
<text transform="translate(338.9,385.8) scale(0.967,1)" font-size="13.3px" text-anchor="start" stroke="#111" stroke-width="0.32">Raman shift, cm<tspan dy="-4.6" font-size="8.4px">−1</tspan></text>
<text transform="translate(12.2,204) rotate(-90) scale(1.005,1)" font-size="13.3px" text-anchor="start" stroke="#111" stroke-width="0.32">Intensity, a.u.</text>
<text transform="translate(231.4,204) rotate(-90) scale(1.005,1)" font-size="13.3px" text-anchor="start" stroke="#111" stroke-width="0.32">Intensity, a.u.</text>
</svg></body></html>
